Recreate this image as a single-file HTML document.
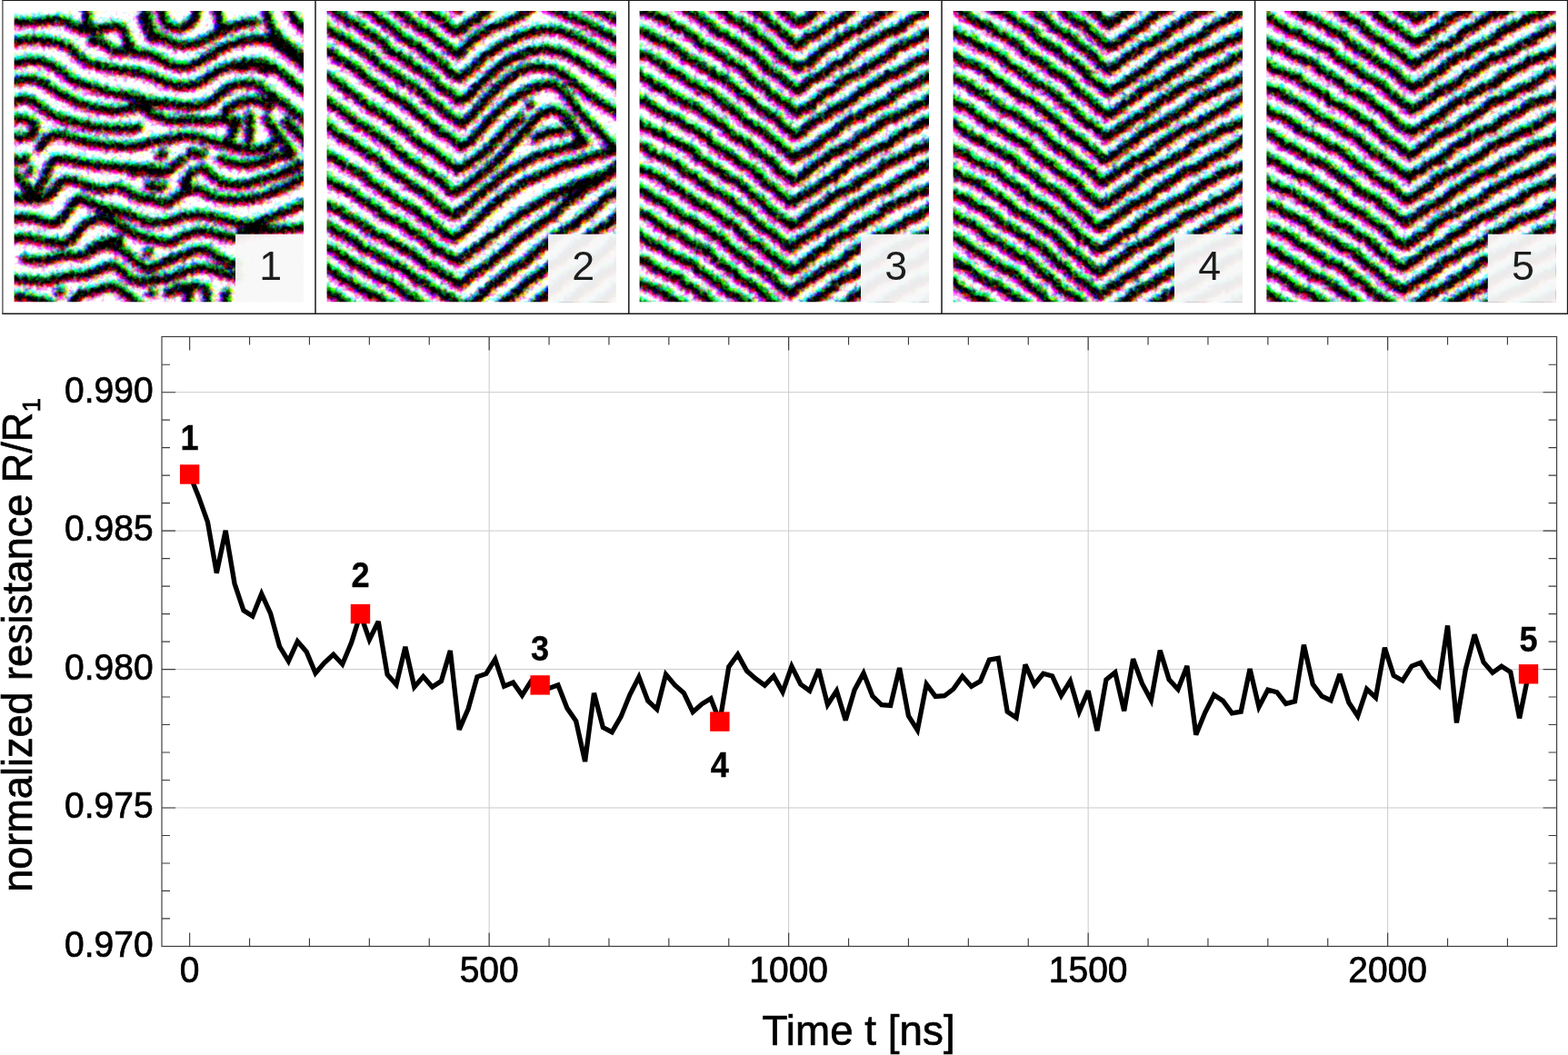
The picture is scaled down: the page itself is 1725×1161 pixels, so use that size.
<!DOCTYPE html>
<html lang="en">
<head>
<meta charset="utf-8">
<title>Normalized resistance versus time with domain pattern snapshots</title>
<style>
html,body{margin:0;padding:0;background:#fff;}
body{width:1725px;height:1161px;overflow:hidden;}
svg{display:block;}
</style>
</head>
<body>
<svg width="1725" height="1161" viewBox="0 0 1725 1161">
<rect width="1725" height="1161" fill="#fff"/>
<defs>
<clipPath id="pc"><rect x="0" y="0" width="318.4" height="320.3"/></clipPath>
<g id="ps0" fill="none" stroke-linecap="round" stroke-linejoin="round">
<path d="M78.6 -4.1C78.9 -2.1 80.2 4.4 80.6 8.3C81.1 12.2 81.2 17.5 81.3 19.3M84.8 33.8C86.7 33.9 93.1 33.5 96.5 34.7C99.8 36 102 39.6 104.7 41.3C107.5 43.1 109.8 44.6 113 45.2C116.2 45.8 121 44.9 124 44.8C127 44.7 129.8 44.8 130.9 44.8M-4.1 101.3C-1.6 100.5 6.7 96.9 11 96.7C15.4 96.6 18.4 98.6 22 100.6C25.7 102.6 29.4 106.3 33.1 108.9C36.7 111.4 40.4 113.9 44.1 115.8C47.8 117.6 51.4 118.7 55.1 119.9C58.8 121 62.5 121.7 66.1 122.7C69.8 123.6 73 124.5 77.2 125.4C81.3 126.3 86.4 127.5 91 128.2C95.5 128.9 100.1 129.2 104.7 129.5C109.3 129.9 113.9 130.2 118.5 130.2C123.1 130.2 129.1 129.8 132.3 129.5C135.5 129.2 136.9 128.6 137.8 128.4M-4.1 119.6C-2.1 119.4 4.6 118.2 8.3 118.5C11.9 118.8 15.4 119.9 17.9 121.3C20.4 122.7 23 124.5 23.4 126.8C23.9 129.1 22.7 133 20.7 135.1C18.6 137.1 15.2 138.7 11 139.2C6.9 139.6 -1.6 138 -4.1 137.8M162.1 -4.1C162.4 -1.8 162.6 6.1 164.1 9.6C165.6 13.2 168 15.6 171 17.2C174 18.8 178.6 19.5 182 19.3C185.5 19.1 188.9 17.7 191.7 15.8C194.5 14 197 11.6 198.6 8.3C200.2 4.9 200.9 -2.1 201.3 -4.1M222 -4.1C222.5 -2.3 224 3.8 224.8 6.9C225.6 10 226.5 13.2 226.8 14.5M277.1 -4.1C277.6 -1.6 278.7 6.9 279.9 11C281 15.2 282.2 17.7 284 20.7C285.9 23.7 288.2 26.2 290.9 28.9C293.7 31.7 297.1 34.5 300.6 37.2C304 40 307.5 42.3 311.6 45.5C315.7 48.7 323.1 54.7 325.4 56.5M300.6 -4.1C301.9 -1.8 304.7 4.6 308.8 9.6C313 14.7 322.6 23.4 325.4 26.2M246.1 120.6C245.6 122.1 244 126.4 242.7 129.5C241.4 132.6 239.2 137.6 238.6 139.2M259.2 114.4C259.3 116.7 259.6 123.8 259.5 128.2C259.4 132.5 258.7 138.5 258.5 140.6M297.8 121.3C299.6 123.1 304.2 127.7 308.8 132.3C313.4 136.9 322.6 146.1 325.4 148.8M-4.1 161.4C-2.5 162.1 2.5 165.5 5.5 165.5C8.5 165.5 12.4 162.1 13.8 161.4M-4.1 314.3C-1.1 314.6 8.5 315 13.8 315.7C19.1 316.4 23 317.3 27.6 318.5C32.2 319.6 39 321.9 41.3 322.6M63.4 322.6C64.8 320.8 68.4 313.7 71.7 311.6C74.9 309.5 78.6 311.1 82.7 310.2C86.8 309.3 92.3 307.2 96.5 306.1C100.6 304.9 103.8 302.9 107.5 303.3C111.2 303.8 114.8 306.5 118.5 308.8C122.2 311.1 126.3 314.8 129.5 317.1C132.8 319.4 136.4 321.7 137.8 322.6M186.2 189.6C187.2 188.4 190.4 184.3 192.4 182C194.3 179.8 197 176.9 197.9 175.8M207.5 173.1C208.8 174.1 212.5 177.1 215.1 179.3C217.8 181.5 220.2 184.3 223.4 186.2C226.6 188 230.3 189.4 234.4 190.3C238.6 191.2 243.6 191.9 248.2 191.7C252.8 191.5 257.4 190.1 262 188.9C266.6 187.8 271.2 186.2 275.8 184.8C280.4 183.4 284.9 182.3 289.5 180.7C294.1 179.1 297.4 177.7 303.3 175.2C309.3 172.6 321.7 167.1 325.4 165.5M168.3 311.6C170.3 310.7 176.8 307.3 180.7 306.1C184.6 304.8 188.3 304.6 191.7 304C195.1 303.4 199.7 302.9 201.3 302.6M191.7 311.6L190.3 325.4M211 304.7L213.1 325.4M233.7 309.5L231.7 325.4M141 6C141.8 8.3 144.2 15.8 146 20C147.8 24.2 151 29.2 152 31M232 110C235 108.3 244 101.8 250 100C256 98.2 262.8 98 268 99C273.2 100 278.8 104.8 281 106M130 179C132.7 178 140.7 173.5 146 173C151.3 172.5 159.3 175.5 162 176M84 262C86.7 260.7 94.7 255.7 100 254C105.3 252.3 113.3 252.3 116 252M250 63C252.3 62.5 259.3 59.5 264 60C268.7 60.5 275.7 65 278 66M277.1 118.5C278.7 120.8 283.3 127.7 286.8 132.3C290.2 136.9 294.6 141.7 297.8 146.1C301 150.4 307.5 156.2 306.1 158.5C304.7 160.8 294.1 158.8 289.5 160C284.9 161.2 282.7 164.1 278.5 165.5C274.4 166.9 269.3 167.9 264.7 168.5C260.1 169.2 255.5 169.6 251 169.4C246.4 169.1 241.3 168 237.2 166.9C233 165.8 228 163.4 226.1 162.8M-4.1 205.5C-1.6 205.7 6.7 206.4 11 206.9C15.4 207.3 18.4 208.2 22 208.2C25.7 208.2 29.9 208 33.1 206.9C36.3 205.7 39 203.6 41.3 201.3C43.6 199 45 195.4 46.9 193.1C48.7 190.8 50.1 188.7 52.4 187.6C54.7 186.4 57.4 186 60.6 186.2C63.9 186.4 68 187.8 71.7 188.9C75.3 190.1 78.6 191.7 82.7 193.1C86.8 194.4 92.3 196.6 96.5 196.9C100.6 197.3 104.3 195.6 107.5 195.1C110.7 194.7 113 193.9 115.8 194.5C118.5 195 120.4 196.6 124 198.6C127.7 200.5 133.2 204.6 137.8 206.2C142.4 207.8 146.5 207.2 151.6 208.2C156.7 209.3 163.9 212.8 168.3 212.4C172.7 211.9 174.7 207.5 177.9 205.5C181.1 203.4 184.6 201.5 187.6 200C190.5 198.4 193.1 196.6 195.8 196.1C198.6 195.6 200.9 196.1 204.1 197.2C207.3 198.3 211.4 201.1 215.1 202.7C218.8 204.3 222 205.9 226.1 206.9C230.3 207.8 235.3 208 239.9 208.2C244.5 208.5 249.1 208.7 253.7 208.2C258.3 207.8 262.9 206.6 267.5 205.5C272.1 204.3 276.7 203 281.3 201.3C285.9 199.7 290.5 197.9 295.1 195.8C299.6 193.8 303.8 191.5 308.8 188.9C313.9 186.4 322.6 182 325.4 180.7M-4.1 176.5C-2.5 177.9 2.3 181.6 5.5 184.8C8.7 188 12.2 193.8 15.2 195.8C18.1 197.9 20.9 198.1 23.4 197.2C26 196.3 28.4 193.1 30.3 190.3C32.3 187.6 33.8 183.9 35.1 180.7C36.5 177.5 37.1 173.8 38.6 171C40.1 168.3 41.3 165.4 44.1 164.1C46.9 162.9 51 163.1 55.1 163.4C59.3 163.8 63.9 165.3 68.9 166.2C74 167.1 79.9 168.2 85.4 169C91 169.8 96.5 170.5 102 171C107.5 171.6 113 171.7 118.5 172.1C124 172.5 130.2 172.7 135.1 173.5C139.9 174.4 142.2 176.5 147.5 177.2C152.8 178 162 179.2 166.9 177.9C171.7 176.7 173.3 172.1 176.5 169.6C179.8 167.2 184.6 164.5 186.2 163.4M-4.1 228.9C-1.1 228.7 8.5 227.3 13.8 227.5C19.1 227.8 23 229.1 27.6 230.3C32.2 231.4 37.7 234.2 41.3 234.4C45 234.6 46.9 233.7 49.6 231.7C52.4 229.6 55.4 225.2 57.9 222C60.4 218.8 62.7 214.9 64.8 212.4C66.8 209.8 68.2 207.5 70.3 206.9C72.4 206.2 74.2 207.1 77.2 208.2C80.2 209.4 84.1 212.1 88.2 213.7C92.3 215.4 97.4 216.7 102 217.9C106.6 219 111.6 219.5 115.8 220.6C119.9 221.8 123.1 223.4 126.8 224.8C130.5 226.1 134.1 227.5 137.8 228.9C141.5 230.3 143.3 232.6 148.8 233C154.4 233.5 165.5 232.6 171 231.7C176.6 230.7 178.4 228.7 182 227.5C185.7 226.4 189.4 225.2 193.1 224.8C196.7 224.3 200.4 224.5 204.1 224.8C207.8 225 211.4 225.5 215.1 226.1C218.8 226.8 222.5 228 226.1 228.9C229.8 229.8 233.5 230.7 237.2 231.7C240.8 232.6 245 233.8 248.2 234.4C251.4 235.1 253.3 235.8 256.5 235.5C259.7 235.3 263.8 234.1 267.5 233C271.2 231.9 274.4 230.5 278.5 228.9C282.7 227.3 287.7 225.2 292.3 223.4C296.9 221.6 300.6 220.1 306.1 217.9C311.6 215.7 322.2 211.6 325.4 210.3M-4.1 79.2C-1.1 78.6 8.5 75.5 13.8 75.1C19.1 74.8 23.4 75.7 27.6 77.2C31.7 78.7 34.9 81.8 38.6 84.1C42.3 86.4 45.9 88.9 49.6 91C53.3 93 57 94.6 60.6 96.5C64.3 98.3 67.5 100.4 71.7 102C75.8 103.6 80.8 105 85.4 106.1C90 107.3 94.6 108.2 99.2 108.9C103.8 109.6 108.9 110.2 113 110.2C117.1 110.2 120.4 109.5 124 108.9C127.7 108.2 131.8 106.6 135.1 106.4C138.3 106.2 140.6 106.4 143.3 107.8C146.1 109.1 146.5 112.1 151.6 114.4C156.7 116.6 167.8 120.4 173.8 121.3C179.8 122.2 183 119.9 187.6 119.9C192.2 119.9 196.7 120.8 201.3 121C205.9 121.2 210.5 121.4 215.1 121.3C219.7 121.1 225.2 120.2 228.9 120.2C232.6 120.2 235.8 121.1 237.2 121.3M10.3 272.3C12.1 272.7 16.7 274 20.7 274.4C24.7 274.7 30.1 274.8 34.5 274.4C38.8 273.9 43 272.5 46.9 271.6C50.8 270.7 54.2 269.1 57.9 268.9C61.6 268.6 65.7 270.2 68.9 270.2C72.1 270.2 74.4 270 77.2 268.9C79.9 267.7 82.2 265 85.4 263.4C88.7 261.8 92.8 259.9 96.5 259.2C100.1 258.5 103.8 258.5 107.5 259.2C111.2 259.9 115.1 261.3 118.5 263.4C122 265.4 124.9 269 128.2 271.6C131.4 274.3 134.4 277.3 137.8 279.2C141.3 281.2 143.3 284.1 148.8 283.3C154.4 282.5 165.5 276.6 171 274.4C176.6 272.2 178.4 271.6 182 270.2C185.7 268.9 189.9 267.3 193.1 266.1C196.3 265 198.1 263.8 201.3 263.4C204.6 262.9 209.2 262.4 212.4 263.4C215.6 264.3 217.9 267 220.6 268.9C223.4 270.7 226.1 273 228.9 274.4C231.7 275.8 234 276.4 237.2 277.1C240.4 277.9 246.4 278.5 248.2 278.8M-4.1 295.1C-1.1 295.3 8.5 296 13.8 296.4C19.1 296.9 23 297.8 27.6 297.8C32.2 297.8 36.7 297.4 41.3 296.4C45.9 295.5 50.5 293.2 55.1 292.3C59.7 291.4 64.3 291.4 68.9 290.9C73.5 290.5 78.1 290.7 82.7 289.5C87.3 288.4 92.3 285.6 96.5 284C100.6 282.4 104.3 279.9 107.5 279.9C110.7 279.9 113 282 115.8 284C118.5 286.1 120.8 290 124 292.3C127.2 294.6 131.4 296.9 135.1 297.8C138.7 298.7 140.1 298.5 146.1 297.8C152.1 297.1 165 295.1 171 293.7C177 292.3 178.4 290.9 182 289.5C185.7 288.2 189.4 286.6 193.1 285.4C196.7 284.3 200.4 282.9 204.1 282.7C207.8 282.4 211.4 283.1 215.1 284C218.8 284.9 222.5 287 226.1 288.2C229.8 289.3 233.5 290.2 237.2 290.9C240.8 291.7 246.4 292.3 248.2 292.6M27.6 151.6C28.7 150 31.7 144.5 34.5 141.9C37.2 139.4 40.7 137.1 44.1 136.4C47.5 135.7 51 136.9 55.1 137.8C59.3 138.7 64.3 140.8 68.9 141.9C73.5 143.1 78.1 143.8 82.7 144.7C87.3 145.6 91.9 146.8 96.5 147.5C101.1 148.1 105.7 148.5 110.2 148.8C114.8 149.2 119.4 149.5 124 149.5C128.6 149.5 133.7 149.6 137.8 148.8C141.9 148 142.8 146.1 148.8 144.7C154.8 143.3 167.3 141.7 173.8 140.6C180.2 139.4 183 138 187.6 137.8C192.2 137.6 196.7 138.3 201.3 139.2C205.9 140.1 210.5 142.2 215.1 143.3C219.7 144.5 225 145 228.9 146.1C232.8 147.1 235.1 148.6 238.6 149.5C242 150.4 245.4 151 249.6 151.6C253.7 152.2 258.8 153 263.4 153C268 153 273.7 152.7 277.1 151.6C280.6 150.4 282.9 147 284 146.1M144.7 -4.1C145.2 -1.6 146.3 6.4 147.5 11C148.6 15.6 147.2 19.3 151.6 23.4C156 27.6 167.8 33.4 173.8 35.8C179.8 38.2 183 37.9 187.6 37.9C192.2 37.9 196.7 37.2 201.3 35.8C205.9 34.5 210.5 31.9 215.1 29.6C219.7 27.3 224.3 24.1 228.9 22C233.5 20 238.1 18.7 242.7 17.2C247.3 15.7 252.6 13.8 256.5 13.1C260.4 12.4 264.5 13.1 266.1 13.1M-4.1 34.7C-1.1 34.3 8.5 32.8 13.8 32.4C19.1 31.9 23 31.7 27.6 32C32.2 32.3 37.2 33.4 41.3 34.2C45.5 35 48.9 35.7 52.4 36.9C55.8 38.1 59.3 39.5 62 41.3C64.8 43.2 66.4 45.9 68.9 48.2C71.4 50.5 74 53.3 77.2 55.1C80.4 57 84.5 58.1 88.2 59.3C91.9 60.4 95.5 61.1 99.2 62C102.9 62.9 106.1 63.8 110.2 64.5C114.4 65.2 119.4 65.6 124 66.1C128.6 66.7 133.7 66.9 137.8 67.8C141.9 68.7 142.8 69.4 148.8 71.7C154.8 73.9 167.3 79.5 173.8 81.3C180.2 83.1 183 82.8 187.6 82.7C192.2 82.6 197.2 82 201.3 80.6C205.5 79.2 208.9 76.6 212.4 74.4C215.8 72.2 218.3 69.6 222 67.5C225.7 65.5 230.1 63.5 234.4 62C238.8 60.5 243.6 59.5 248.2 58.6C252.8 57.7 257.4 56.6 262 56.5C266.6 56.4 271.6 56.7 275.8 57.9C279.9 59 283.1 61.1 286.8 63.4C290.5 65.7 294.1 68.7 297.8 71.7C301.5 74.6 304.2 77.6 308.8 81.3C313.4 85 322.6 91.6 325.4 93.7M-4.1 12.4C-1.1 12.4 8.5 12.7 13.8 12.7C19.1 12.6 23 12.4 27.6 12.1C32.2 11.8 37.2 11 41.3 10.7C45.5 10.5 49.2 9.8 52.4 10.3C55.6 10.8 57.9 12.3 60.6 13.8C63.4 15.3 66.1 18 68.9 19.3C71.7 20.6 74 21.1 77.2 21.4C80.4 21.6 84.5 21.1 88.2 20.7C91.9 20.2 95.5 19.3 99.2 18.6C102.9 17.9 107.3 16.7 110.2 16.5C113.2 16.4 115.3 16.8 117.1 17.9C119 19.1 120.1 21.1 121.3 23.4C122.4 25.7 122.9 28.9 124 31.7C125.2 34.5 126.8 37.7 128.2 40C129.5 42.3 130.7 44.3 132.3 45.5C133.9 46.6 135.1 46.4 137.8 46.9C140.6 47.3 142.8 46.1 148.8 48.2C154.8 50.4 167.3 57.7 173.8 59.9C180.2 62.2 183 62.1 187.6 61.7C192.2 61.4 196.7 59.9 201.3 57.9C205.9 55.9 210.5 52.4 215.1 49.6C219.7 46.9 224.3 43.6 228.9 41.3C233.5 39 238.1 37.3 242.7 35.8C247.3 34.3 251.9 33.2 256.5 32.4C261.1 31.6 266.1 30.9 270.2 31C274.4 31.1 277.6 31.6 281.3 33.1C284.9 34.6 288.6 37.4 292.3 40C296 42.5 297.8 43.9 303.3 48.2C308.8 52.6 321.7 63.2 325.4 66.1M-4.1 58.6C-1.1 58 8.5 55.7 13.8 55.1C19.1 54.6 23.4 54.7 27.6 55.4C31.7 56.1 34.9 57.7 38.6 59.3C42.3 60.8 46.4 62.7 49.6 64.8C52.8 66.8 55.1 69.6 57.9 71.7C60.6 73.7 62.9 75.6 66.1 77.2C69.4 78.8 73 79.9 77.2 81.3C81.3 82.7 86.4 84.1 91 85.4C95.5 86.8 100.1 88.4 104.7 89.6C109.3 90.7 113.9 91.6 118.5 92.3C123.1 93.1 127.7 92.8 132.3 94C136.9 95.1 139.2 97.8 146.1 99.2C153 100.7 166.9 101.8 173.8 102.7C180.7 103.6 183 104.4 187.6 104.7C192.2 105.1 196.7 105.4 201.3 104.7C205.9 104 211.2 102.4 215.1 100.6C219 98.8 221.6 96.2 224.8 93.7C228 91.2 231 87.5 234.4 85.4C237.9 83.4 241.8 82.2 245.4 81.3C249.1 80.4 252.8 79.9 256.5 79.9C260.1 79.9 264 79.9 267.5 81.3C270.9 82.7 273.7 85.7 277.1 88.2C280.6 90.7 284.5 93.7 288.2 96.5C291.8 99.2 295.5 102 299.2 104.7C302.9 107.5 305.9 109.8 310.2 113C314.6 116.2 322.8 122.2 325.4 124M-4.1 251C-1.1 250.7 8.5 249.3 13.8 249.6C19.1 249.8 23 251.4 27.6 252.3C32.2 253.3 36.7 254.6 41.3 255.1C45.9 255.5 51.2 255.8 55.1 255.1C59 254.4 62.2 253 64.8 251C67.3 248.9 68.2 245.2 70.3 242.7C72.4 240.2 74.2 237.9 77.2 235.8C80.2 233.7 84.5 231.4 88.2 230.3C91.9 229.1 95.5 228.4 99.2 228.9C102.9 229.4 106.6 231.2 110.2 233C113.9 234.9 117.6 237.9 121.3 239.9C124.9 242 128.6 243.8 132.3 245.4C136 247.1 136.9 248 143.3 249.6C149.8 251.2 164.6 255.1 171 255.1C177.5 255.1 178.4 251.2 182 249.6C185.7 248 189.4 246.6 193.1 245.4C196.7 244.3 200.4 242.9 204.1 242.7C207.8 242.5 211.4 243.4 215.1 244.1C218.8 244.8 222.5 245.9 226.1 246.8C229.8 247.7 234 249.1 237.2 249.6C240.4 250 242.2 250.4 245.4 249.6C248.7 248.8 252.3 245.9 256.5 244.8C260.6 243.6 264.5 243.3 270.2 242.7C276 242.1 281.7 242.2 290.9 241.3C300.1 240.4 319.6 238.1 325.4 237.5" stroke-width="10.6"/>
<path d="M194.2 154.9C195.1 155.3 197.5 157 199.9 157.5C202.3 158 207.2 157.7 208.7 157.7" stroke-width="10.6"/>
<path d="M165.2 157.4L159.1 158.9" stroke-width="10.6"/>
<path d="M18.7 174.8L17.1 177.4" stroke-width="10.4"/>
<path d="M146.8 192.4C148.7 192.7 155.2 193.9 158.2 194.1C161.2 194.2 163.8 193.4 164.9 193.3" stroke-width="10.6"/>
<path d="M145.9 265.9L148.7 266.8" stroke-width="10.4"/>
<path d="M52.2 309L49.3 309.7" stroke-width="10.6"/>
<path d="M149.6 311L152.6 311" stroke-width="10.0"/>
</g>
<g id="ps1" fill="none" stroke-linecap="round" stroke-linejoin="round">
<path d="M-9.3 -108L-5.7 -106.4L-2.3 -104.5L1.5 -103.3L4.8 -101.2L7.7 -98.5L11.9 -97.8L15.6 -96.3L17.6 -92.2L20.4 -89.4L24.2 -88L27.5 -85.9L31 -84.1L34.1 -81.8L36.5 -78.3L40.2 -76.7L43.8 -74.9L45.5 -70.6L48.3 -67.7L52.5 -66.7L56 -64.9L59.7 -63.2L63 -61L65.6 -57.9L69.5 -56.5L73.2 -54.9L75.2 -50.8L78.5 -48.5L82.8 -47.8L86.2 -45.6L89.4 -43.2L92.1 -40.1L94.4 -36.6L98.3 -35L101.2 -32.3L103.1 -28.1L107.1 -26.7L111.3 -25.6L114.4 -23L117.6 -20.5L120.1 -17.2L123.4 -14.8L127.7 -13.9L130.3 -10.6L133.4 -7.9L137.4 -6.5L140.4 -3.7L143.3 -0.8L146.5 -3.4L149.5 -6L153.2 -7.9L156.3 -10.5L159.3 -13.2L161.6 -16.8L164 -20.3L168.5 -21L172.1 -23L174.5 -26.4L178.7 -27.7L182.4 -29.4L185.3 -32.3L188.3 -34.9L190.7 -38.5L194.3 -40.4L198.8 -41.1L201.2 -44.6L203.8 -47.7L207.7 -49.3L210.4 -52.3L213 -55.6L215.7 -58.6L218.4 -61.7L222.9 -62.5L226.8 -64L228.9 -67.8L232.4 -69.8L236.3 -71.3L238.9 -74.4L242.1 -76.9L245.1 -79.5L248.6 -81.5L253.3 -82L256.1 -84.9L258 -89L261.6 -90.8L264.7 -93.3L267.1 -96.8L270.3 -99.2L273.2 -101.9L277 -103.5L281.2 -104.6L283.3 -108.4L285.7 -111.8L289.8 -112.9L293 -115.3L296 -118L299.7 -119.7L303 -121.8L307.1 -123L310.7 -124.8L312.3 -129.3L315.1 -132.2L319.2 -133.4L321.9 -136.3L324.8 -139.1L328.2 -141.1M-8.4 -84.2L-5.1 -82L-0.8 -81.5L2.1 -78.9L4.1 -74.9L7.6 -73.2L11.6 -72.1L14.9 -70L18.3 -68.1L21.2 -65.4L23.8 -62.2L27.6 -60.8L30.6 -58.3L32.3 -53.9L35.7 -51.9L39.9 -51.1L43.3 -49L46.7 -47L49.7 -44.5L52.5 -41.5L56.5 -40.4L59.9 -38.3L62 -34.4L65.8 -33L70.3 -32.4L73.4 -29.9L76.4 -27.3L79.1 -24.2L81.7 -21L85.5 -19.5L88.4 -16.6L90.4 -12.7L94.6 -11.5L98.6 -10.3L101.3 -7.2L104.3 -4.4L107 -1.3L110.3 0.9L114.6 1.9L117.3 5L120.4 7.6L125.2 8L128.5 10.4L130.9 13.9L133.7 16.8L136.7 19.7L140.2 21.8L143.3 24.4L146.5 21.9L149.9 19.6L152.6 16.5L155.7 13.9L158.9 11.6L162.9 10.1L167.3 9.1L169.4 5.3L172.1 2.1L176.1 0.8L178.5 -2.7L181 -6.1L184.3 -8.4L187.5 -10.8L191.6 -12L194.7 -14.7L196.4 -19.1L200 -20.9L203.9 -22.5L206.3 -25.9L209.8 -28L213.6 -29.6L217.3 -31.3L221.3 -32.7L223.5 -36.4L225.8 -40.1L230 -41.1L233.1 -43.7L235.5 -47.1L239.1 -49L242.4 -51.3L245.8 -53.4L248.8 -56L250.4 -60.5L253.6 -63L258 -63.7L260.9 -66.6L263.9 -69.1L267.9 -70.4L271.3 -72.6L274.9 -74.5L277.7 -77.4L279.7 -81.4L283.7 -82.6L288 -83.6L290.3 -87L293.5 -89.5L297 -91.4L299.8 -94.3L302.8 -96.9L305.1 -100.4L307.5 -103.9L312 -104.5L315.9 -106L318.2 -109.5L321.7 -111.4L325.3 -113.2L328.2 -115.9M-9 -58.8L-5.4 -57.3L-1.2 -56.8L2.1 -54.7L5.3 -52.7L8.3 -50.3L10.8 -47.1L14.3 -45.4L17.6 -43.4L19.4 -39.2L22.3 -36.6L26.7 -36.1L30.1 -34.3L33 -31.7L36.2 -29.5L38.8 -26.5L42.2 -24.6L46.2 -23.4L48.6 -20.1L51.5 -17.5L56.2 -17.4L59.9 -15.8L62.6 -12.8L65.6 -10.3L68.1 -7.1L71.3 -4.8L75 -3.3L77.3 0.3L80 3.2L84.5 3.7L87.7 6L90 9.5L92.9 12.2L95.7 15.1L99.4 16.8L103.4 18L105.9 21.3L109.4 23.3L114.1 23.7L116.9 26.5L119.2 30.1L122.3 32.6L125.3 35.3L129.2 36.8L132.5 39L134.8 42.6L138.3 44.6L141.6 46.9L144.6 49.6L147.2 46.5L150 43.5L152.5 40.4L155 37.5L157.9 35L160.5 32.1L163.2 29.4L166.4 27.6L169.7 26L173 24.3L176.2 22.3L179.2 20.2L182.7 18.4L186.4 17.2L190 15.9L193.5 14.2L197.1 12.9L200.5 11.6L203.7 10.1L206.8 8.4L210.1 7.1L213.3 5.6L216.5 3.1L219.6 0.6L222.9 -1.7L226.3 -3.7M-7.5 -36.8L-4.4 -34.6L-1.7 -31.5L1.7 -29.7L5.1 -27.8L7.1 -23.8L10 -21.3L14.5 -20.9L17.8 -19L20.5 -15.9L23.5 -13.5L26.3 -10.6L29.6 -8.6L33.6 -7.4L36.2 -4.3L39.2 -1.8L44 -1.8L47.7 -0.3L50.2 3L53.2 5.5L56 8.4L59.2 10.6L63.1 12L65.6 15.3L68.3 18.3L72.8 18.9L75.9 21.3L77.9 25.3L80.9 28L83.9 30.6L87.5 32.4L91.5 33.6L94.1 36.8L97.5 38.9L102.2 39.3L104.9 42.3L107.2 46L110.6 48.1L113.9 50.4L117.8 51.9L121.3 54L123.4 57.8L127.1 59.7L130.8 61.4L132.5 65.8L135.5 68.6L139.2 70.4L142.7 72.5L146 74.8L149.1 72.2L152.3 69.7L155.2 66.9L158.4 64.3L161.5 61.6L164.8 59L167.9 56.2L170.6 52.9L173.6 50L176.6 47.8L180 46L183 43.7L186 41.4L189.4 39.7L192.5 37.6L195.6 35.9L198.8 34.3L202.1 33.1L205.2 31.3L208.3 29.6L211.4 27.9L215.1 26.6L219 25.8L222.8 24.9L226.3 23.1L230 21.9L233.7 21.8L237.5 21.5L241.1 20.8L244.9 21L248.6 20.8L252.3 21.7L256.1 22.6L259.7 23.8L263.4 25L267.1 26L270.8 27.9L274.8 29.1L278.3 31.4L282 33.4L285.7 35.2L289.5 37.2L292.9 39.6L296.8 41.4L300.6 43.3L304.2 45.4L307.3 47.6L310.5 49.6L313.7 51.6L317.2 53L320.5 54.7L323.4 57.3L326.5 59.4M-7.7 -12.2L-5.4 -8.6L-2.5 -6L2 -5.7L5.4 -3.7L7.7 -0.2L10.7 2.3L13.6 5L16.9 7.2L20.8 8.4L23.6 11.3L26.6 13.9L31.3 13.9L35.1 15.4L37.4 19L40.5 21.5L43.7 23.8L47 26L50.9 27.3L53.6 30.3L56.4 33.4L60.7 34.1L63.9 36.5L65.7 40.8L68.7 43.5L71.9 45.8L75.4 47.8L79.4 49.1L82.1 52.2L85.3 54.6L89.9 55.1L92.7 58L94.9 61.9L98.6 63.6L102.2 65.5L106.1 67.1L109.7 69.1L111.9 72.8L115.4 74.9L119.2 76.6L120.9 81.1L123.6 84.3L127.5 85.9L130.9 88.1L134.7 89.8L137.6 92.8L140.6 95.6L144.3 97.5L147.5 100.1L150.3 97.9L153.3 95.9L156.1 93.6L158.8 91.3L161.1 88.5L163.3 85.6L166 83.3L168.9 81L171.2 78.2L173.8 75.7L177 73.2L179.9 70.3L182.8 67.5L186 64.9L188.9 62.1L191.8 60.1L194.7 57.9L197.6 55.7L200.8 54L203.9 52.3L207.8 50.9L211.3 49L215.2 47.9L218.9 46.2L222.6 44.5L226.3 43.8L230 43.5L233.7 42.8L237.4 42.1L241.2 41.7L244.8 42.6L248.5 43.8L252.2 44.7L256 44.7L259.7 45.4L263.4 47.6L267.2 49.6L271 51.5L274.6 53.8L277.4 55.8L280.4 57.6L283.5 59.2L286.4 61.3L289.4 63.1L292.4 64.9L295.4 66.6L298.6 68.1L301.4 70.2L304.2 72.3L307.3 74.6L310.7 76.5L313.5 79.1L316.6 81.3L320.2 82.8L323.3 85L326.5 87.2M-7.3 11.5L-5.3 15.3L-2.4 18L0.6 20.4L3.7 22.8L7.4 24.1L10.5 26.4L13.3 29.3L17.6 29.8L21.7 30.7L24 34.2L26.7 37.1L30.2 38.9L33.4 41L37.2 42.4L40.6 44.4L43 47.7L46.8 49.2L50.7 50.4L52.6 54.5L54.9 58.1L58.3 60L61.6 62.2L65.3 63.8L68.7 65.8L71.2 69.1L74.9 70.6L79 71.7L81.1 75.6L83.8 78.6L87.9 79.6L91.6 81.4L95.3 83L98.5 85.4L100.8 88.9L104.6 90.5L108 92.7L109.6 97.2L112.7 99.7L116.7 101L120 103.3L123.4 105.4L126 108.7L128.6 111.9L132.8 113L135.7 115.8L138.4 119L142.4 120.4L145.8 122.6L148.8 125.3L151.5 122.8L153.7 120L156.6 117.8L159.4 115.5L162.2 112.4L164.7 109.2L167.9 106.5L170.3 103.2L173 100L175.7 97.3L178.6 94.8L181.2 91.9L183.8 89.1L186.5 86.4L189.1 83.9L192 81.8L195 79.8L197.3 77.1L200 74.7L203.1 72.8L206.1 70.8L208.9 68.5L212.1 66.8L215.2 64.9L219.3 63.8L223.5 62.8L227.7 62.1L231.9 61.2L235.6 61.9L239.3 62.4L243 62.4L246.7 63.1L249.9 64.8L253.3 66.2L256.5 67.8L259.7 69.6L262.9 72.2L266.3 74.5L269.4 77.3L272.7 79.8L275.9 82.6L279.3 85.2L282.7 87.8L285.7 90.9L288.6 93L291.3 95.4L294.6 97.1L297.6 99L300.5 101.1L303.8 103.1L307.2 104.8L310.2 107.1L313.4 109.2L316.8 110.9L320.1 112.8L323.4 114.6L326.5 116.9M-8.8 39.2L-5.3 40.8L-2.6 43.6L0.7 45.6L5.2 45.9L8.2 48.2L10.3 52.1L13.7 54L17.3 55.5L20.8 57.3L24.6 58.6L27.5 61.1L30.3 64L34.4 64.9L37.5 67.2L39.2 71.7L42.1 74.3L45.8 75.8L49 78L52.6 79.7L55.6 82.3L58.1 85.4L62.1 86.6L65.6 88.5L67.5 92.6L70.8 94.7L75.1 95.4L78.7 97.2L82.3 99L85.3 101.6L87.8 104.9L91.7 106.3L94.8 108.7L96.5 113L100.1 115L104.2 116.1L107.2 118.7L110.3 121.2L112.8 124.6L115.4 127.6L119.6 128.8L122.4 131.7L124.8 135.2L129.3 135.8L133.4 137.1L136.3 139.9L139.3 142.6L142 145.7L145.3 148L148.5 150.5L151.6 148.2L154.4 145.5L157.6 143.3L160.6 140.9L163.1 138.2L165.4 135.4L168.1 132.9L170.5 130.2L172.9 127.4L175.5 124.2L178.1 120.9L181.4 118.2L184.5 115.4L187.1 112.1L189.9 109.5L192.9 107.2L195.8 104.8L198.4 102L201.3 99.6L204.5 97.5L207.6 95.3L210.6 93L213.8 91L217 89L220.9 87.7L224.7 86.3L228.1 84.1L231.9 82.6L235.6 82.1L239.3 81.7L243 81L246.7 80.7L249.7 82.5L252.7 84L255.8 85.5L258.8 87.2L261.2 90.5L263.8 93.7L266.6 96.8L269 100.2L271.3 102.9L273.1 106L275.4 108.7L277.9 111.3L280.1 114.1L282.6 116.8L285.4 119.1L288 121.8L290.4 124.5L293.1 127.1L296.2 129.9L299.3 132.8L302.1 135.9L304.7 139.2L307.9 141.9L310.8 144.5L313.8 146.9L316.2 149.9L319.1 152.5M-9.3 68.4L-5.8 70.2L-1.8 71.2L1.6 73L5.4 74.4L8.5 76.7L11.3 79.6L15.3 80.7L18.6 82.8L20.3 87.2L23.3 89.8L27.3 90.9L30.5 93.1L33.9 95.2L36.9 97.7L39.4 101L43.2 102.5L46.6 104.4L48.6 108.5L52 110.5L56.5 110.9L60.1 112.8L63.5 114.8L66.6 117.3L69.2 120.5L73.1 121.9L76.4 124.1L78.3 128.3L81.9 130L86.2 130.9L89.1 133.8L92 136.6L94.5 139.9L97.2 143.1L101.2 144.4L104.2 147.1L106.6 150.6L111.2 151.2L115.2 152.6L117.9 155.6L121 158.2L123.8 161.4L127.4 163.3L131.4 164.6L133.8 168.2L137.1 170.7L140.5 172.8L143.5 175.7L147 173.8L150.2 171.5L153.7 169.5L157.1 167.3L160.4 164.9L163.7 162.4L167 159.9L170.6 157.9L173.6 155.3L176.7 152.8L179 149.6L181.8 146.9L184.7 144.2L187.4 141.3L189.9 138.3L192.7 135.7L195.5 133L198 130L200.7 127.3L204 124.6L207.4 122L210.5 119.1L213.3 115.9M-7.9 93.7L-4.7 96L-0.7 97L1.9 100L3.9 104L7.6 105.4L11.7 106.5L14.7 109L17.9 111.3L20.6 114.2L23.3 117.2L27.1 118.6L30.1 121.1L32.2 125L36.1 126.2L40.6 126.7L43.8 129L47.1 131.3L50.1 133.9L52.9 136.7L56.9 137.9L60.1 140.3L62.3 144.1L66.3 145.2L70.5 146.2L73 149.5L75.8 152.6L78.4 155.7L81.2 158.6L85.2 160L88 162.9L90.6 166.2L95.2 166.7L99 168.3L101.4 171.8L104.5 174.4L107.5 177.1L111.2 178.9L115.4 180L117.9 183.4L121.1 185.8L125.6 186.6L128 190.1L130.4 193.8L133.5 196.3L136.8 198.7L140.3 200.9L143.5 199L146.6 196.7L149.6 194.5L152.8 192.4L156.2 190.7L159.6 188.5L162.7 185.9L165.6 183.1L169 180.8L172 178.1L175 175.4L178.2 172.7L181.6 170.4L184.6 167.6L187.8 165L190.3 162.3L193 159.6L195.8 157.1L198.3 154.2L200.5 151.2L202.9 148.2L205.6 145.6L208.2 142.8L210.6 139.9L213.3 137.3L216.1 134.4L218.5 131.3L221.1 128.3L223.8 125.5L226.3 122.4L229.1 119.8L231.7 117.1L234.4 114.5L237.4 112.2L240.9 111.2L244.3 109.9L247.7 108.5L251.3 110.1L255 111.5L258.8 112.8L261.2 115.6L263.3 118.6L265.8 121.4L268.1 124.3L270.5 127.4L272.7 130.6L274.8 133.9L277.3 136.9L279.9 139.6L282.4 142.2L284.8 145.1M-8.5 121.7L-4.2 122.2L-1.2 124.6L1.7 127.3L4.6 129.8L7.2 133L10.6 134.8L14 136.6L16.1 140.4L19.4 142.5L24 142.5L27.5 144.4L30.2 147.2L33.4 149.4L36.3 152.2L39.8 153.9L43.7 155.1L46.2 158.4L49.3 160.8L53.9 161.1L57.1 163.4L59.3 167L62.1 169.8L64.8 172.8L68.1 174.9L71.9 176.4L74.3 179.9L77.4 182.3L82 182.7L85 185.3L87.2 188.9L90.5 191.2L93.7 193.5L97.7 194.8L101.6 196.2L104 199.6L107.6 201.4L111.9 202.4L114.1 206.1L116.3 209.8L119.6 212.1L122.8 214.5L126.7 216.1L129.7 218.7L132.4 221.8L136 223.7L139.2 226.1L142.1 223.8L145.3 221.9L148.5 220L151.1 217.3L154.1 215L156.9 212.7L159.6 210.2L161.9 207.3L165 205.3L167.9 203L170.6 200.5L173.2 198.1L176.1 196L179 193.9L181.9 191.9L184.5 189.4L187.1 186.9L190.4 184.3L193.9 182L197 179L200.6 176.8L204.1 174.4L207.8 172.4L211.4 170.2L215.3 168.5L219 166.4L222.6 164.2L226.3 162.6L229.8 160.6L233.5 159.1L237.5 158.3L241.2 156.8L244.9 155.6L248.6 154.6L252.4 153.9L256 152.3L259.7 151.2L263.4 150.4L267.1 149.6L270.8 148.6L274.6 147.8L277.9 146.9L281.4 146.1L284.8 145.1M-8.7 152.5L-5.4 154.3L-1.9 156L0.4 159.4L3.5 161.6L8 161.6L11.5 163.2L14 166.4L17.1 168.6L20.2 170.8L23.6 172.7L27.5 173.6L30.6 176L33.3 178.8L37.7 179.2L41.5 180.4L43.6 184.1L46.3 187.1L49.4 189.4L52.4 191.9L56.2 193.2L59.2 195.6L61.6 198.9L65.6 199.9L69.5 201.1L71.6 204.9L74.3 207.8L77.9 209.5L81.3 211.3L85.4 212.3L88.8 214.2L91.4 217.4L95.5 218.3L99.2 219.9L101.1 224L103.9 226.8L107.5 228.5L110.9 230.6L114.6 232.1L117.4 235L119.7 238.6L123.7 239.8L126.8 242.2L129.1 245.8L132.7 247.4L136.4 249.1L139.7 251.4L142.8 248.7L146.3 246.5L149.5 244L152.5 241.2L155.8 238.8L158.8 236.2L161.6 233.4L164.3 230.4L167.5 227.9L170.6 225.3L173.6 222.8L176.8 220.2L179.4 217.1L182.1 214.2L185.6 212.1L188.4 209.3L191.5 206.7L194.5 204.5L197.8 202.7L200.6 200.3L203.5 198L206.6 196L209.6 193.9L213.3 191.8L216.8 189.5L220.3 187.2L224.4 185.9L228.2 184L231.9 182.5L235.5 180.6L239.5 179.5L243.1 177.6L246.7 175.9L250.4 174.3L254.2 173.1L257.8 171.3L261.5 169.8L265.3 168.4L269 167.4L272.9 166.8L276.6 165.8L280.1 164L283.8 162.9L287.5 161.9L291.2 160.7L294.8 159.3L298.7 158.7L302.4 157.7L305.7 156.6L309 155.5L312.4 154.7L315.8 153.7L319.1 152.5M-9.1 181.7L-4.7 181.6L-1.4 183.3L0.9 186.8L4 189L7.3 190.8L10.6 192.6L14.5 193.4L17.8 195.2L20.6 197.9L24.7 198.5L28.7 199.1L31 202.6L33.5 205.8L36.9 207.6L40 209.7L43.5 211.2L47 212.9L49.4 216.1L52.7 218L56.8 218.6L59.4 221.8L61.5 225.5L65.1 227.1L68.7 228.5L72.3 229.9L76.2 230.9L79 233.7L82.2 235.9L86.4 236.4L89.2 239.1L91.3 242.9L94.9 244.5L98.7 245.8L102 247.7L105.5 249.4L107.9 252.8L110.7 255.7L114.6 256.7L117.3 259.8L119.4 263.6L123.3 264.7L127.3 265.8L130.7 267.6L134.1 269.6L136.9 272.4L140.2 274.5L143.5 276.6L146.5 274L149.8 271.8L153 269.5L155.9 266.9L159.1 264.6L162.4 262.3L165.5 260.2L168.8 258.3L171.7 255.9L174.1 252.8L177.3 250.9L180.5 248.8L183.4 246.5L186.4 244.1L189.6 242.2L192.6 239.9L195.3 237.2L198.4 235.1L201.5 232.9L204.5 230.6L207.7 228.2L210.8 225.5L213.9 223L217.9 221.7L221.1 219.3L224.5 217L227.5 215.2L230.9 213.7L233.8 211.6L236.7 209.4L239.9 207.8L243 205.9L246.6 203.9L250.3 201.8L254 200L257.9 198.6L261.6 196.6L265.3 195.2L268.8 193.1L272.7 192L276.4 190.4L280.1 188.8L283.8 187.4L287.6 186.4L291.2 184.8L294.9 183.4L298.7 182.2L302.7 181.3L306.7 180.4L310.7 179.1L314.3 176.8L318.4 176.2L322.5 175.5L326.5 174.4M-9.1 210.6L-5.6 212L-2.3 213.6L1.5 214.4L4.8 216.1L7.7 218.5L11.7 219L15.7 219.5L18 222.9L20.5 226L24.1 227.3L27.5 228.9L30.9 230.4L34.4 231.8L37 234.8L40 237.1L43.9 237.7L46.7 240.3L48.7 244.3L52.1 246L56 246.8L59.4 248.3L63.1 249.4L66.3 251.5L69.1 254.2L73 254.9L76.6 256.3L78.7 260L81.9 262.2L86 262.6L89.5 264.2L92.8 266.1L95.8 268.4L98.2 271.8L101.5 273.6L105.2 274.9L107.3 278.7L110.1 281.4L114.4 281.7L118 283.2L121.2 285.3L124.3 287.4L126.9 290.5L130.5 292L134.5 292.8L137.1 295.8L140.3 297.9L143.9 299.4L147 301.8L150.3 299.4L153.4 296.7L156.3 293.7L158.9 290.5L161.8 287.5L166.6 287L170.2 285L172.6 281.3L176.8 280L180.3 278L182.8 274.5L185.9 271.8L188.7 268.7L192.6 267.2L196.8 265.9L198.8 261.7L201.6 258.7L205.5 257.1L207.9 253.5L210.7 250.5L213.9 248L217.4 245.8L222.1 245.3L225.1 242.5L227.3 238.6L231.4 237.3L234.9 235.2L237.5 231.9L241 229.8L244.3 227.5L248.3 226L252.1 224.2L253.7 219.7L256.4 216.5L260.4 215.1L262.9 211.7L265.9 208.9L269.5 206.9L272.9 204.7L277 203.5L279.8 200.5L281.7 196.3L285.8 195L289.8 193.7L292.6 190.6L296.3 188.7L299.9 186.8L303.3 184.7L306.9 182.7L308.8 178.5L311.1 174.9L315.5 174.1L318.7 171.6L321.3 168.3L324.9 166.5L328.1 164M-8.1 232.5L-5.2 234.8L-1.9 236.5L2.3 236.6L5.5 238.5L7.6 242.3L10.8 244.1L14.7 244.8L18.1 246.4L21.5 247.9L24.7 249.8L27.3 252.8L30.7 254.3L34.3 255.5L36.5 259.2L39 262.4L42.9 263.1L46.6 264.1L49.9 265.8L53.4 267.3L56.3 269.9L59.4 272L63.4 272.5L66.5 274.8L68.8 278.3L72.6 279.1L76.8 279.5L80 281.5L83.2 283.5L86 286.1L88.6 289.2L92.3 290.5L95.5 292.4L97.6 296.3L101 298L105.3 298.2L108.5 300.4L111.4 302.8L114.4 305.2L117.1 308.1L121 309.1L124.8 310.2L127.3 313.4L130.9 314.9L135.4 314.9L138.5 317.2L141.1 320.3L144 322.8L147.1 325.1L150.4 327L153.6 324.4L156.8 321.9L160.4 319.8L164.2 318.1L168.2 316.5L170.1 312.3L172.6 308.9L176.7 307.5L179.2 304L181.8 300.7L185.6 298.9L189 296.7L192.9 295L195.6 291.8L197.5 287.7L201.8 286.5L205.6 284.8L208.1 281.4L212.1 279.8L215.9 278.2L219.4 276L222.7 273.6L224.5 269.3L227.5 266.5L231.9 265.6L234.5 262.3L237.3 259.2L241.1 257.6L244.2 254.9L247.4 252.4L249.9 249.1L252.2 245.3L256.7 244.6L260.8 243.3L263.3 239.9L267.1 238.2L270.9 236.5L273.9 233.7L277.1 231.3L279.4 227.6L282.6 225.2L287.4 224.8L290.2 221.9L292.5 218.2L296.2 216.3L299.1 213.5L301.9 210.5L304.8 207.7L307.4 204.4L311.6 203.4L316.1 202.7L318.5 199.1L321.4 196.3L325.4 194.9L328.4 192.2M-7.5 255.1L-5.3 258.6L-2.5 261.2L1.6 261.4L5.3 262.4L8.5 264.2L11.9 265.7L14.7 268.4L17.6 270.8L21.3 271.7L24.1 274.2L26.2 278.2L29.6 279.6L33.7 279.9L37 281.7L40.1 283.7L43.3 285.7L46 288.4L49.6 289.6L53.4 290.5L55.9 293.7L58.9 296L63.4 295.7L67.1 296.8L70 299.2L73.1 301.4L75.8 304.2L78.8 306.5L82.6 307.5L85.4 310.3L87.7 313.6L91.8 314.2L95.7 315.1L98.3 318L101.2 320.6L104.1 323.1L107.1 325.5L111.1 326.1L114.6 327.8L117.1 330.9L121.2 331.5L125.5 331.8L128.1 334.8L130.9 337.6L133.9 339.9L136.9 342.3L140.8 343.3L144 345.4L146.7 348.4L150.1 350.2L153.3 352.2L156.6 349.9L160 347.5L163 344.7L165.6 341.4L167.8 337.5L172.1 336.4L176.2 334.9L178.6 331.3L182.5 329.6L186.5 328.1L189.3 325.1L192.4 322.4L195 319L198.6 317L203.2 316.4L205.7 312.9L208.3 309.6L212.3 308.1L215 304.8L217.5 301.5L220.4 298.4L223.3 295.5L227.9 294.9L231.5 292.9L233.6 288.9L237.4 287.1L241.1 285.3L243.8 282.1L247.1 279.8L250.3 277.3L254.2 275.8L258.7 274.9L260.9 271.1L263.3 267.5L267.2 265.9L269.9 262.8L272.6 259.6L275.9 257.3L279 254.7L283.2 253.6L286.6 251.3L288.3 246.8L291.8 244.7L295.9 243.4L298.7 240.4L302.2 238.4L305.8 236.5L309.5 234.6L313.6 233.4L316 229.8L317.9 225.7L322 224.5L325.5 222.4L328 219.1M-7.5 278.8L-4.4 280.6L-1.1 282.3L2 284.3L4.7 287L8.2 288.4L11.6 289.9L13.7 293.5L16.5 296.1L20.7 296.2L24.3 297.3L27.1 299.9L30.2 301.9L33.1 304.4L36.1 306.5L40 307.3L43.2 309.2L45.7 312.3L49.6 312.9L54 312.7L57.1 314.9L59.9 317.5L63 319.6L65.8 322.2L69.3 323.7L72.9 324.9L75.3 328.3L78.3 330.5L82.6 330.6L85.8 332.6L88.1 336.1L91 338.5L94 340.9L97.3 342.6L101.3 343.3L104.3 345.7L107.2 348.2L111.6 348.2L115.3 349.5L117.6 352.9L120.6 355.3L123.9 357.2L127.2 359L131.2 359.8L134.2 362.2L136.6 365.5L140.5 366.4L143.9 368.2L146.1 371.9L149.2 374.1L152.7 375.7L156.2 377.5L159.2 374.9L162.2 372.1L165.5 369.7L169.1 367.7L173.6 367L176.3 363.9L178.4 360L182.3 358.5L185.4 355.9L187.5 352L190.8 349.7L194.1 347.4L197.8 345.7L201.4 343.7L203.1 339.3L206 336.6L210.3 335.5L212.9 332.3L216 329.7L219.9 328.3L223.5 326.4L227.5 325L230.3 322L232.1 317.8L236.1 316.4L239.8 314.6L242.1 311L245.4 308.9L249 306.9L252.1 304.4L255.4 302.1L257.2 297.9L259.7 294.6L264.2 293.9L267.5 291.7L270.2 288.6L274.2 287.2L277.7 285.3L281 283.1L284.2 280.6L286.2 276.7L289.7 274.8L294.4 274.3L297.1 271.3L299.8 268.3L303.4 266.5L306.3 263.7L309.2 261L311.8 257.9L314 254.1L318.1 252.9L322.4 252.1L324.7 248.6L327.8 246M-8.2 304.4L-4.7 305.6L-1.4 307.3L0.8 310.8L3.8 312.8L8 312.7L11.4 314.1L14 317L16.9 319.2L19.8 321.5L22.8 323.7L26.5 324.5L29.7 326.3L32.3 329.2L36.1 329.9L40.5 329.6L43.5 331.7L46.1 334.6L49.3 336.5L52.2 338.6L55.6 340.3L59.3 341.2L62 343.8L64.7 346.6L68.8 346.9L72.3 348.2L74.4 352L77 354.8L80.2 356.7L83.3 358.8L87 359.7L90.5 361.2L93 364.2L96.7 365.3L101 365.5L103.6 368.4L106 371.6L109.5 373L112.9 374.6L116.5 375.8L120.2 377L122.7 380L125.6 382.5L129.6 383.1L132.3 386L134.2 390L137.5 391.9L141 393.4L144.4 395L148 396.3L150.9 398.8L154.1 400.9L157.4 402.7L160.7 400.3L164.2 398.1L167.5 395.7L170.5 392.9L172.3 388.5L175.7 386.3L180 385.2L182.4 381.6L185.7 379.2L190 378.1L193.2 375.5L196.4 373.1L198.9 369.7L201.8 366.8L206.6 366.3L209.9 364L212.3 360.4L216.3 358.9L219.6 356.5L222.1 353.2L224.9 350.1L227.1 346.3L231 344.7L235.3 343.7L237.5 339.9L240.6 337.3L244.6 335.9L247.4 332.9L250.5 330.2L253.5 327.5L256.8 325.2L261.7 324.9L265.1 322.8L267.1 318.8L270.8 317L274.2 314.7L276.6 311.3L279.7 308.6L282.5 305.7L286.2 303.9L290.5 302.9L292.6 299L294.9 295.4L298.9 294L302 291.3L304.9 288.5L308.5 286.6L311.9 284.4L316.2 283.6L320 281.9L321.8 277.6L324.9 275L328.9 273.8M-8.2 329.4L-4.1 329.6L-1.5 332.3L1 335.4L4.1 337.4L7 339.7L10.2 341.3L13.9 342.2L16.7 344.7L19.7 346.9L24 346.7L27.8 347.4L30.3 350.5L33.1 353L36.5 354.5L39.6 356.4L43.3 357.4L46.8 358.7L49.3 361.6L52.6 363.4L56.7 363.6L59.5 366.3L61.5 370.2L64.5 372.3L67.8 374.1L71.1 375.8L74.8 376.8L77.8 379L80.5 381.7L84.5 382.2L88.2 383.3L90.4 387L93.3 389.4L97.1 390.2L100.6 391.7L104.3 392.7L107.7 394.4L110.2 397.6L113.5 399.3L117.3 400.2L119.5 403.8L121.8 407.3L125.5 408.4L129 409.9L132.4 411.7L135.7 413.4L138.1 416.7L141.2 418.9L145.2 419.6L148.1 422.2L151 424.6L154.7 425.9L157.9 427.9L161 425.3L163.9 422.4L166.9 419.6L170.1 417L174.8 416.5L178.2 414.3L180.4 410.4L184.4 408.9L187.8 406.7L190 402.9L193.1 400.3L196.2 397.6L200 395.9L203.9 394.4L205.7 390.1L208.4 386.9L212.5 385.5L215 382.2L217.9 379.3L221.6 377.5L225.2 375.5L229.6 374.6L232.6 371.9L234.5 367.8L238.5 366.3L242.2 364.5L244.6 361L248.1 358.9L251.6 356.8L255 354.7L258.6 352.7L260.3 348.3L262.7 344.8L267 343.8L269.9 341L272.7 338L276.6 336.4L280 334.3L283.7 332.6L286.8 330.1L288.8 325.9L292.5 324.2L297 323.6L299.7 320.5L302.9 318.1L306.7 316.3L309.7 313.7L312.9 311.3L315.2 307.7L317.3 303.7L321.5 302.8L325.4 301.3L327.7 297.7M-8.7 355.4L-5.7 357.5L-2.3 358.8L1.1 360.2L3.8 362.9L7.3 364.1L11.6 363.9L14.6 366L16.9 369.5L20.2 371.2L23.7 372.4L27.1 373.9L30.8 374.7L34 376.6L36.7 379.3L40.5 380.2L44.2 381.1L46.3 384.8L48.6 388.2L52.1 389.5L55.5 391.1L58.8 392.7L62.3 394.1L65 396.9L68 399.1L72.1 399.5L75.1 401.7L77.2 405.4L80.8 406.8L84.8 407.3L88.3 408.8L91.9 409.9L95 412.1L97.6 415.1L101.3 416.2L104.7 417.7L106.7 421.7L109.6 424.2L113.6 424.8L117 426.5L120.1 428.6L123.1 430.9L125.5 434.2L128.9 435.9L132.7 436.9L135.1 440.2L138.1 442.7L142.5 442.7L146.2 444L149.2 446.3L152.2 448.6L155.1 451.1L158.4 453.1L161.6 450.7L165.1 448.6L168.7 446.5L172.2 444.5L174.1 440.2L176.7 437L180.9 435.8L183.5 432.5L186.1 429.3L190.2 428L193.7 425.8L197.1 423.6L199.9 420.6L202 416.8L206.3 415.7L210.4 414.4L212.8 410.9L216.6 409.2L220.4 407.6L223.3 404.7L226.3 402L228.3 398L231.2 395.1L235.8 394.4L238.6 391.5L241 388L244.9 386.5L248.1 384L250.9 381.1L253.9 378.3L256.4 375L260.7 374L265.2 373.4L267.6 369.9L270.8 367.4L274.8 366L277.5 363L280.4 360.2L283.2 357.2L286.1 354.3L290.6 353.7L293.9 351.4L295.7 347.1L299 344.9L302.4 342.8L305 339.6L308.2 337.2L311.3 334.6L315 332.9L319.7 332.5L322.5 329.6L324.6 325.8L328.6 324.4M229.1 141.4C230.8 140.4 235.9 137.3 239.3 135.8C242.7 134.3 246.1 132.9 249.5 132.5C252.9 132 258 132.8 259.7 132.8M243 -3.7C246.4 -2.3 256.6 1.7 263.4 4.6C270.2 7.6 277 10.7 283.8 13.9C290.6 17.2 297.1 20.4 304.2 24.1C311.3 27.8 322.8 34.2 326.5 36.2M282 -5.6C285.1 -4.5 295 -1.4 300.5 0.9C306.1 3.2 311 6.2 315.4 8.3C319.7 10.5 324.6 13 326.5 13.9" stroke-width="10.6"/>
<path d="M224.4 102.2L222.1 104.1" stroke-width="10.4"/>
</g>
<g id="ps2" fill="none" stroke-linecap="round" stroke-linejoin="round">
<path d="M-8.2 -133.2L-4.6 -132.5L-2.2 -129.3L0.1 -126L3.7 -125L7.7 -124.9L11.1 -123.7L14.6 -122.5L18.2 -121.5L21.2 -119.4L24.1 -117.1L27.9 -116.4L31.5 -115.2L33.7 -111.6L35.9 -108.1L39.7 -107.2L43.6 -106.6L46.8 -104.5L49.9 -102.5L53 -100.3L55.5 -97.1L58.6 -95L62.5 -94.1L65.2 -91.2L67.2 -87.4L71.1 -86.4L75.7 -86.4L79.1 -84.5L82.3 -82.4L85.5 -80.2L88.1 -77.2L91.6 -75.3L95.6 -74.3L98 -70.9L100.4 -67.5L104.9 -67L108.8 -65.7L111.3 -62.3L114.1 -59.3L116.5 -55.9L119.2 -52.9L123.3 -51.6L126.2 -48.7L128.4 -45L133.1 -44.5L137.3 -43.2L139.7 -39.7L142.7 -36.8L145.6 -33.8L149.1 -31.7L153.6 -30.6L156 -27.1L159.1 -24.2L163.8 -23.4L166.1 -19.5L168.5 -15.8L171.6 -13L175 -10.5L178.1 -12.9L181 -15.6L183.8 -18.4L187 -20.7L191.7 -20.7L195.2 -22.6L197.3 -26.3L201.2 -27.5L204.9 -28.8L207.2 -32.3L210 -35L213.2 -37.2L216.4 -39.3L220.7 -39.7L223.8 -41.9L225.5 -46.3L228.6 -48.4L232.5 -49.4L235 -52.5L237.7 -55.3L241.2 -56.7L244.7 -58.4L248.7 -59L252.7 -59.5L255.1 -62.8L257.5 -66.1L261.5 -66.6L265.1 -67.7L267.6 -70.7L270.8 -72.6L274.4 -73.8L277.7 -75.5L281.3 -76.5L284.6 -78L286.6 -82L288.9 -85.4L292.7 -86L296.3 -87.1L298.8 -90L301.9 -91.9L305.6 -92.6L309 -94L312.5 -95.1L316 -96L318.5 -98.9L320.9 -102.2L324.7 -102.7L328.9 -102.2M-8.3 -108.4L-4.9 -107.1L-1.6 -105.7L1.9 -104.6L4.9 -102.6L7.9 -100.6L11.7 -100L15.2 -98.8L17.4 -95.3L20 -92.3L23.9 -91.9L28 -91.7L31 -89.6L33.9 -87.2L37 -85.2L39.6 -82.2L42.5 -79.8L46.2 -78.8L49.3 -76.6L51.4 -72.8L54.7 -71.1L59.4 -71.5L63 -70.2L65.8 -67.5L69.1 -65.4L72 -63L75 -60.6L79 -59.7L82.4 -57.8L84.6 -54.2L88.2 -52.6L92.9 -52.5L95.9 -50L98.2 -46.3L101 -43.5L103.5 -40.3L106.8 -38L110.7 -36.7L113.2 -33.3L115.9 -30.2L120.6 -30L124.2 -28L126.3 -24.1L129.3 -21.4L132.5 -18.9L136.2 -17L140.6 -16.1L143.2 -12.7L146.3 -10L151.1 -9.3L153.6 -5.9L155.4 -1.4L158.5 1.3L161.6 4.1L165.6 5.9L168.7 8.7L171.6 11.9L175 14.3L178.3 12.1L181.8 10.3L185.4 8.7L189 7L190.7 2.7L193.3 -0.4L197.6 -1.1L200.2 -4.1L202.6 -7.5L206.5 -8.6L210.1 -10.1L213.5 -12L216.8 -13.9L218.8 -17.7L221.7 -20.3L226.3 -20.2L229.8 -21.8L232.3 -24.9L236.1 -25.9L240 -26.9L243 -29.1L246.2 -31.1L248.6 -34.2L250.8 -38L254.5 -38.9L258.7 -39.2L261.2 -42.3L263.8 -45.2L267.6 -46.1L270.9 -47.7L273.7 -50.2L276.8 -52.2L279.4 -55L282.2 -57.6L286.5 -57.4L290.8 -57.2L293.5 -59.7L296.3 -62.2L300.1 -62.8L303.6 -64L306.4 -66.4L309.4 -68.3L312.3 -70.6L315 -73.2L318.7 -73.8L322.9 -73.4L325.8 -75.6L328 -79.2M-8.2 -83.4L-4.5 -83L-1.3 -81.2L1 -77.9L4.1 -76L8.3 -76.4L12.2 -76L15 -73.5L17.8 -71.1L20.8 -69.1L23.5 -66.4L26.5 -64.2L30.1 -63.1L33.1 -61L35.3 -57.4L38.7 -55.9L43.2 -56.3L46.8 -55L49.4 -52L52.4 -49.7L55.5 -47.7L58.5 -45.4L62.3 -44.3L66.1 -43.2L68.7 -40.2L71.7 -37.9L76.4 -38L80 -36.6L82.1 -32.7L84.7 -29.7L87.7 -27.2L90.6 -24.5L94.3 -23L97.7 -21.1L99.9 -17.3L103.4 -15.5L107.9 -15L110.4 -11.8L112.5 -7.9L115.9 -5.8L119.3 -3.6L123.2 -2.2L127.3 -1L129.8 2.4L133.2 4.6L137.8 5.3L140.1 9L142 13.3L145.5 15.4L148.8 17.8L152.6 19.7L155.9 22.3L157.7 26.6L161.6 28.4L165.1 30.8L167.4 34.6L171 36.8L174.6 39.1L177.8 36.8L180.7 34.2L183.4 31.2L185.9 27.9L190.4 27.5L194.4 26.5L196.6 22.8L200.3 21.3L204.4 20.6L207.1 17.6L209.9 14.9L212.9 12.4L215.8 9.9L220.2 9.6L224 8.4L225.9 4.4L228.7 1.7L232.6 0.7L235.2 -2.2L237.7 -5.4L240.8 -7.5L243.9 -9.7L247.7 -10.7L252.1 -10.7L254.9 -13.3L257.1 -16.9L260.9 -17.8L264.7 -18.6L267.4 -21.4L270.4 -23.5L274 -24.8L277.3 -26.4L281.2 -27L285 -27.7L287.2 -31.2L289.3 -35L292.9 -36L296.5 -37.1L299 -40.1L301.9 -42.3L305.4 -43.5L308.6 -45.1L312.2 -46.1L316 -46.6L318.6 -49.3L320.8 -53L324.2 -54.1L328.4 -53.8M-7.2 -60.6L-3.8 -59.3L-1.3 -56.4L1.6 -54.2L4.7 -52.3L7.5 -49.8L10.6 -48.1L14.2 -47.1L17 -44.7L19.4 -41.5L23 -40.5L27.4 -40.9L30.6 -39.2L32.9 -35.8L35.8 -33.5L39.1 -31.8L42.2 -29.8L45.9 -28.7L49.7 -27.8L52.6 -25.3L55.5 -22.9L59.9 -22.9L63.8 -22.1L66 -18.5L68.4 -15L71.6 -13.1L74.7 -10.8L78 -8.9L81.7 -7.6L84.3 -4.5L86.9 -1.4L91.1 -0.8L94.6 1L96.3 5.4L99 8.4L102.8 9.8L106.3 11.7L110.3 12.9L113.9 14.6L116.3 18L120.2 19.6L124.4 20.6L126.3 24.7L128.6 28.3L132.6 29.8L136.1 31.9L139.7 33.8L142.8 36.6L144.6 40.8L148.3 42.8L151.8 45L153.2 49.8L156.5 52.3L161 53.5L164.5 55.7L167.9 58.1L170.8 61.3L174 63.9L177.2 61.5L180.6 59.5L184.3 58L188.5 57.1L190.7 53.4L192.9 49.8L197.1 48.9L200 46.3L202.1 42.5L205.6 40.8L209.2 39.1L212.7 37.4L216.3 35.9L218.4 32.1L220.7 28.7L225.1 28.3L228.7 26.9L231.2 23.8L234.9 22.5L238.9 21.8L242.4 20.1L245.9 18.7L248.6 15.9L250.6 11.9L254.2 10.5L258.4 10.3L261 7.5L263.7 4.6L267.4 3.5L270.7 1.9L273.7 -0.3L276.8 -2.3L279.3 -5.5L281.7 -8.8L285.7 -9.1L290 -8.9L292.8 -11.4L295.7 -13.7L299.6 -14.1L303.2 -15.2L306.2 -17.2L309.5 -18.8L312.3 -21.3L314.8 -24.2L318.6 -24.7L322.9 -24.1L325.9 -26.1L328.3 -29.4M-8.4 -32.8L-5 -31.6L-1.6 -30.3L1.1 -27.6L3.9 -25.2L8 -25.1L11.9 -24.8L14.5 -21.8L16.8 -18.4L20.1 -16.6L23.5 -15.1L26.7 -13.4L30.5 -12.6L34.2 -11.5L37 -8.8L40.4 -7.2L44.9 -7.4L48.3 -5.8L50.3 -1.8L53 1L56.7 2.4L60 4.3L63.5 6L67 7.5L69.6 10.7L72.4 13.4L76.6 14.2L79.7 16.5L81.3 21.1L84.3 23.7L88.3 24.7L91.9 26.5L95.7 27.9L99.2 29.8L101.7 33.1L105.5 34.6L109.7 35.7L111.8 39.7L114.3 43.1L118.7 43.9L122.4 45.8L125.8 48L128.9 50.6L130.9 54.8L134.3 57.1L138 59L139.6 63.7L142.6 66.5L147.3 67.3L150.8 69.7L154.2 72.1L156.8 75.5L159.6 78.7L164.1 80L166.9 83.2L170 86.1L173.4 88.8L176.8 86.6L179.9 84.2L182.7 81.3L184.7 77.3L188.7 76.1L193 75.4L195.3 71.9L198.7 69.9L203 69.4L206.1 67L209.1 64.4L212 61.8L214.7 58.9L219 58.4L223.3 57.9L225.5 54.4L228.4 51.7L232.3 50.8L235.2 48.1L237.6 44.9L240.5 42.4L243.2 39.4L246.8 38.1L251.3 38.2L254.2 35.8L256.5 32.2L260.2 31.1L264 30.1L266.7 27.4L269.8 25.3L273.2 23.7L276.4 21.9L280.5 21.6L284.7 21.5L287.2 18.4L289.4 14.9L293.1 13.9L296.6 12.6L299.1 9.6L302 7.4L305.3 5.8L308.4 3.8L312.1 3.1L316 2.8L318.6 -0.1L320.8 -3.9L324.2 -5.1L328.1 -5.3M-7.6 -9.2L-4.5 -7.5L-2.3 -3.6L0.3 -0.8L3.8 0.2L7.2 1.5L10.5 2.9L14.3 3.7L17.7 5.1L20.5 7.6L24.1 8.7L28.3 8.6L31.4 10.7L33.5 14.6L36.4 16.9L40.3 17.7L43.8 19.2L47.1 20.9L50.7 22.3L53.4 25.1L56 28.1L59.9 29.1L63.2 30.9L65 35.3L67.5 38.4L71.6 39.2L75.3 40.5L78.7 42.4L82.3 44L85.1 46.9L88 49.5L92.3 50.1L95.5 52.5L97.4 56.6L101.1 58.2L105.7 58.7L109 60.9L112.2 63.2L115 66.2L117.2 70L120.9 71.7L124.2 74.1L125.8 78.7L129.4 80.7L134 81.4L137 84.2L140 87L142.7 90.3L145.5 93.5L150 94.4L153.1 97.3L155.5 100.9L160.5 101.5L163.9 103.9L166.4 107.6L169.3 110.7L172.4 113.6L175.5 110.9L178.7 108.6L182.2 106.7L186.8 106.4L189.7 103.5L191.8 99.7L195.9 98.7L199.2 96.5L201.3 92.6L204.5 90.5L207.9 88.5L211.5 86.9L215.5 85.8L217.7 82.1L219.8 78.2L223.8 77.3L227.4 75.7L229.8 72.4L233.4 70.8L237.3 69.9L241 68.5L245 67.8L247.9 65.2L249.9 61.2L253.5 59.8L257.7 59.5L260.4 56.7L263.2 54L267 53L270.3 51.3L273.6 49.4L276.9 47.7L279 44L281.3 40.4L285.3 39.9L289.3 39.5L292 36.8L295.1 34.8L299.1 34.3L302.5 33L305.8 31.4L309.3 30L311.9 27.2L314.5 24.2L318.5 24.2L322.8 24.6L325.7 22.3L328.5 19.7M-8.8 18.4L-5.4 19.7L-1.8 20.5L1.2 22.4L4.2 24.6L8 25.1L11.9 25.4L14.5 28.3L16.7 31.9L20.2 33.1L24.2 33.3L27.7 34.7L31 36.4L34.4 37.9L37.1 40.6L39.8 43.3L43.5 44.3L46.8 46.1L48.7 50.3L51.2 53.4L55.3 53.9L59.1 54.9L62.2 57.1L65.5 58.9L68.5 61.4L71.2 64.3L75 65.4L78.8 66.7L81 70.4L83.9 72.9L88.7 72.9L92.5 74.1L95.4 76.8L98.5 79.3L101 82.6L103.8 85.4L107.8 86.7L110.4 89.9L112.4 93.9L116.6 94.9L120.8 96L123.2 99.4L126 102.4L128.7 105.6L131.7 108.4L136.1 109.3L139.1 112.1L141.7 115.4L146.7 115.7L150.6 117.6L152.7 121.5L155.6 124.5L158.3 127.9L162 129.9L165.4 132.4L168.1 135.8L171.4 138.4L174.8 136.4L178.2 134.3L181.3 132L183.2 127.8L186.3 125.4L190.7 124.9L193.2 121.7L195.9 118.8L200.2 118.2L203.7 116.5L206.8 114.1L209.8 111.8L212.1 108.3L215.6 106.7L220.4 107L223.4 104.7L225.9 101.5L229.9 100.6L233.4 99.1L236 96.1L238.8 93.6L241.2 90.3L243.9 87.5L248.2 87.4L252 86.4L254.2 82.8L257.1 80.5L261.1 79.8L264.1 77.7L266.9 75.1L270.1 73.2L273 70.9L276.5 69.6L281.1 70.2L284.7 69.3L287 65.8L290 63.8L293.9 63.2L296.8 61.1L299.5 58.4L302.6 56.5L305.6 54.3L308.7 52.6L312.7 52.6L316.3 51.7L318.5 48.1L321 45L324.6 44.3L328 43.2M-7.9 41.9L-4.7 43.4L-2.4 46.9L0.4 49.3L4.5 49.2L8.4 49.4L11.6 51L14.9 52.6L18.1 54.3L20.8 56.9L23.7 59.2L27.4 60.1L30.4 62.2L32.4 66.2L35.2 68.7L39.4 68.8L43.1 69.7L46 72.3L49 74.4L52 76.7L54.6 79.6L58.2 81L62 81.9L64.6 85L67.2 87.9L71.8 87.9L76.1 88.3L78.9 91L81.8 93.6L84.7 96.2L87.3 99.2L90.9 100.8L94.5 102.4L96.6 106.3L99.5 108.9L104.2 109.2L107.3 111.6L109.4 115.5L112.2 118.3L114.9 121.3L118.3 123.4L122.6 124.3L125.3 127.5L128.2 130.2L133.2 130.4L136.6 132.6L138.6 136.7L141.7 139.3L144.7 142.1L148.6 143.9L152.5 145.6L154.4 149.8L157.8 152.2L161.7 154L163.8 158L166.9 160.8L170.4 163.2L173.4 160.5L176.4 157.8L179.4 155.3L183.9 154.9L187.6 153.3L189.7 149.4L193.5 148L197.3 146.8L199.6 143.2L202.5 140.6L205.7 138.4L209.1 136.4L213.3 135.9L216.4 133.5L218.1 129L221.4 127.1L225.2 126L227.6 122.6L230.5 120L234.1 118.6L237.6 117L241.7 116.5L245.5 115.5L247.7 111.8L250.4 109L254.6 108.8L258 107.1L260.5 104.1L264 102.6L267.6 101.4L270.9 99.7L274.6 98.8L277.5 96.4L279.3 92L282.2 89.6L286.3 89.4L289.4 87.5L292 84.5L295.5 83.3L299.1 82.4L302.4 80.8L306 79.9L309.2 78.2L311.5 74.6L314.4 72.5L318.7 73L322.5 72.5L325.3 70L328.5 68.5M-7.4 66.4L-4.4 68.4L-1.1 69.9L2 71.9L4.8 74.4L8.2 75.7L11.7 76.8L14.2 79.9L16.6 83.3L20.4 84L24.6 83.9L27.7 86.1L30.3 89L33.3 91.1L36.2 93.6L39.1 96L43 96.9L46.4 98.5L48.8 101.8L52.3 103.4L57 102.9L60.7 104.2L63.2 107.4L66.2 109.8L69.3 112.1L72.3 114.6L76.1 115.8L79.5 117.7L81.7 121.4L85.2 123.3L89.7 123.7L92.4 126.7L94.3 130.8L97.3 133.5L100.2 136.1L103.8 138L107.9 139.2L110.5 142.3L113.6 144.9L118.5 145.2L121.7 147.6L123.6 151.8L126.9 154.1L130.4 156.3L134.2 158L138.3 159.6L140.5 163.4L143.6 166.2L147.9 167.4L149.7 171.9L151.6 176.1L155.4 178.1L159 180.3L162.8 182.3L165.9 185.3L169.2 188L172.6 185.9L176.2 184.1L179.8 182.4L182 178.5L184.6 175.3L188.9 174.6L191.6 171.5L194 168.1L198 167.1L201.6 165.4L205 163.4L208.2 161.1L210.2 157.2L213.5 155.1L218.3 155.3L221.5 153.1L224.2 150.2L228.3 149.5L232 148.2L235 145.8L238.1 143.5L240.3 139.9L243 136.9L247.3 136.8L251 135.4L253.2 131.8L256.4 129.9L260.2 128.9L263.2 126.5L266.2 124.1L269.2 121.8L271.7 118.8L275.4 117.7L280.1 118.5L283.5 116.9L286 113.8L289.6 112.7L293.4 112L296.3 109.7L299.3 107.5L302.4 105.5L305.2 102.8L308.7 101.6L313 102.1L316.2 100.4L318.4 96.6L321.4 94.5L325 93.7L328 91.6M-7.7 92.5L-4.6 94.3L-2.3 97.6L0.8 99.4L5 99.1L8.7 99.9L11.2 102.9L13.8 105.7L16.9 107.7L19.8 110.1L22.9 112L26.6 112.9L29.8 114.7L32.3 117.7L36 118.8L40.6 118.3L44 119.9L46.3 123.3L49.3 125.7L52.6 127.4L55.7 129.6L59.4 130.7L63.1 132.1L65.5 135.3L68.6 137.6L73 137.9L76.1 140.2L77.8 144.6L80.5 147.6L83.8 149.6L86.9 151.9L90.8 153.2L94.1 155.2L96.5 158.6L100.4 160L104.7 160.7L106.9 164.4L109.3 168L113.1 169.4L116.8 171.2L120.7 172.7L124.4 174.5L126.6 178.4L129.9 180.6L134 182.1L135.6 186.6L137.8 190.4L141.8 192L145.2 194.3L148.9 196.3L151.7 199.4L153.9 203.3L158.2 204.7L161.4 207.4L164.3 210.4L167.9 212.8L170.9 210.3L173.8 207.5L176.4 204.3L180.3 203.2L184.6 202.4L186.8 198.8L190.3 196.9L194.5 196.3L197.3 193.4L200 190.5L203.1 188.2L206.1 185.7L210.4 185.2L214.3 184.2L216.2 180.1L218.9 177.3L222.8 176.4L225.5 173.5L227.9 170.2L231.1 168.1L234.2 165.9L238 165L242.4 164.9L245.1 162.1L247.3 158.5L251.1 157.6L254.9 156.7L257.6 153.9L260.7 151.9L264.3 150.7L267.6 149.1L271.5 148.5L275.3 147.6L277.4 143.9L279.6 140.2L283.3 139.4L286.8 138.2L289.3 135.1L292.3 133L295.8 131.8L299.1 130.2L302.6 129.3L306.3 128.5L308.8 125.5L311 121.9L314.7 121.2L318.8 121.4L321.9 119.6L324.9 117.5L328.5 116.9M-7.5 117.4L-5.2 120.9L-2.2 123.1L0.9 124.9L3.9 127.1L7.3 128.4L10.9 129.4L13.8 131.9L16.7 134.3L20.9 134.3L25.1 134.5L27.7 137.5L30.1 140.8L33.5 142.3L37 143.8L40.4 145.5L44.3 146.3L47.6 148.1L50.2 151.2L53.8 152.6L58 153.1L60.5 156.4L62.3 160.7L65.4 163L69 164.6L72.2 166.7L76 168.1L79.1 170.5L81.5 173.9L85.5 175L89.5 176.2L91.5 180.2L94.1 183.4L98.3 184.3L102.2 185.8L106 187.4L109.6 189.3L111.9 193L115.3 195.2L119.4 196.5L121.2 200.9L123.5 204.6L127.7 205.8L131.3 207.9L134.6 210.4L137.5 213.4L139.5 217.5L143.5 219.2L147 221.5L148.8 225.9L153.1 227.4L157.5 228.7L160.6 231.6L163.6 234.5L166.6 237.6L169.9 235.4L173.5 233.5L177.5 232.4L180.3 229.4L182.4 225.5L186.5 224.6L189.6 222.2L191.7 218.3L195.2 216.5L198.9 214.9L202.3 213.1L205.9 211.4L208 207.6L210.4 204.2L214.8 203.8L218.4 202.4L220.9 199.2L224.7 198L228.7 197.3L232.1 195.5L235.7 194L238.3 191L240.4 187.1L244.2 186.1L248.3 185.7L250.9 182.6L253.6 179.9L257.4 179L260.7 177.1L263.6 174.8L266.7 172.6L269 169.1L271.7 166.4L276.1 166.6L280.1 166.2L282.8 163.4L285.9 161.5L289.9 161.1L293.3 159.6L296.3 157.6L299.5 155.9L302.2 153.1L305.1 150.8L309.3 151L313.4 151L316 148.1L318.5 145.2L322.1 144.2L325.4 142.8L328.1 140.2M-8.5 144.8L-5.2 146.2L-2.5 148.8L0.7 150.4L4.9 150.2L8.5 151.3L10.8 154.8L13.3 157.7L17 158.7L20.6 159.7L24.1 161.2L27.8 162L31.2 163.7L33.9 166.5L37.4 167.9L41.5 168.3L44.1 171.3L45.9 175.6L49 177.8L52.8 178.8L56.1 180.8L59.5 182.5L62.8 184.5L65.3 187.8L68.4 190L72.6 190.7L75.2 193.7L77.2 197.7L81 199L85.4 199.6L88.9 201.4L92.6 203L95.6 205.6L98.2 208.9L102.1 210.2L105.6 212.2L107.3 216.7L110.4 219.2L114.9 219.9L118.1 222.4L121.1 225.2L123.7 228.4L125.9 232.3L129.8 233.9L133.3 236.2L135.1 240.4L139.3 241.8L144.1 242.5L147.1 245.4L150.2 248.2L152.7 251.7L156 254.3L159.9 256.3L162.6 259.6L165.8 262.4L169 260.2L172 257.6L174.3 254L177.5 251.8L182 251.4L184.5 248.2L187.4 245.6L191.7 245.2L195 243.1L197.8 240.4L200.8 238L203.4 235L207.3 233.9L211.9 234L214.5 231.1L216.8 227.7L220.7 226.7L223.9 224.7L226.2 221.3L229 218.7L231.7 216L234.8 213.8L239.2 213.9L242.8 212.5L244.8 208.7L247.9 206.7L251.9 206.2L254.9 203.9L257.7 201.3L261.1 199.8L264.3 198L267.9 197L272.3 197.3L275.5 195.5L277.4 191.6L280.5 189.5L284.3 188.9L287.1 186.6L289.7 183.7L292.9 182L296.1 180.3L299.3 178.8L303.2 178.5L306.5 177.1L308.6 173.2L311.1 170.4L315 170.2L318.6 169.3L321.4 167L324.6 165.6L328.2 164.9M-8.1 168.8L-5.9 172.6L-3 174.8L0.9 175.1L4.5 175.9L7.9 177.3L11.6 178.2L14.9 179.8L17.7 182.4L21.2 183.6L25.2 184.1L27.8 186.9L29.7 191L32.9 192.9L37 193.4L40.3 195.1L43.5 197.2L46.7 199.1L49.3 202.1L52.1 204.8L56 205.7L59.1 207.9L61 212L64.2 214.1L68.8 214.1L72.6 215.4L75.8 217.5L79.2 219.4L81.9 222.4L85 224.8L89.1 225.7L91.9 228.6L93.9 232.5L98.1 233.6L102.3 234.4L105.1 237.5L107.8 240.4L110.3 243.8L112.8 247.2L116.8 248.6L119.9 251.2L121.9 255.2L126.3 256.2L130.8 257L133.4 260.3L136.4 263.2L139.2 266.3L142.5 268.8L147.1 269.8L149.7 273.2L152.5 276.3L156.9 277.6L159.5 281.1L162.1 284.5L165.4 287.2L168.4 284.7L171.7 282.6L175.9 281.7L179.3 279.8L181.3 275.8L185 274.4L188.7 272.9L190.8 269.1L193.7 266.5L197.2 264.8L200.6 262.9L204.5 261.9L207.2 259.1L208.9 254.6L212.3 252.9L216.4 252.1L218.9 249L221.9 246.7L225.9 245.9L229.5 244.5L233.3 243.5L236.7 242L238.8 238.2L241.5 235.5L245.8 235.4L249.2 233.8L251.6 230.5L255 229L258.6 227.9L261.7 225.9L265 224.2L267.7 221.6L269.6 217.5L272.6 215.3L276.9 215.5L280.3 214L282.8 211.1L286.3 209.9L290.1 209.3L293.3 207.7L296.6 206.2L299.8 204.5L302.2 201.3L305.2 199.3L309.5 199.9L313.4 199.6L316 196.8L318.9 194.7L322.5 194L325.7 192.4L328.5 190.1M-8.2 193.8L-4.6 194.8L-1.4 196.4L1.5 198.7L5 199.9L8.8 200.4L11.6 203.1L13.7 206.8L17 208.4L21.2 208.4L24.6 209.8L27.6 212.1L30.7 214.1L33.5 216.8L36.1 219.7L39.7 221L43.1 222.5L45.3 226.3L48 229.1L52.4 229.1L56.5 229.7L59.5 232.1L62.7 234.2L65.8 236.5L68.5 239.3L72.4 240.5L76.1 241.8L78.4 245.4L81.4 247.9L86.1 247.9L89.7 249.7L92 253.3L94.8 256.2L97.3 259.4L100.2 262.2L104.2 263.4L106.9 266.5L109.3 270L113.9 270.6L117.9 272L120.1 275.7L123 278.6L126.1 281.3L129.6 283.5L134.1 284.3L136.9 287.5L139.7 290.5L144.6 291.1L147.4 294.1L149.2 298.6L152.2 301.5L155.2 304.4L159 306.4L162.2 309.2L165.4 312L168.8 310L172 307.8L174.3 304.3L177 301.3L181.4 300.7L184.1 297.9L186.6 294.7L190.8 293.9L194.4 292.3L197.4 289.9L200.5 287.6L202.8 284.2L206.2 282.3L211 282.6L214.2 280.6L216.6 277.3L220.4 276.3L224 274.9L226.6 271.9L229.4 269.3L231.9 266.2L234.6 263.3L238.8 263L242.7 262.2L244.9 258.6L247.7 256.1L251.6 255.4L254.7 253.4L257.4 250.6L260.6 248.8L263.6 246.5L267 245.1L271.5 245.7L275.3 244.8L277.5 241.4L280.4 239.2L284.3 238.6L287.4 236.7L290 233.9L293.1 232L296.1 230L299.2 228.1L303.2 228L306.8 227.2L309 223.7L311.4 220.4L315 219.6L318.5 218.6L321.2 216.1L324.3 214.3L327.8 213.3M-7.5 217.3L-4.9 220.1L-2.5 223.3L1.2 224.1L5.5 223.7L8.8 225.2L11.6 227.7L14.7 229.8L17.5 232.2L20.2 235L23.6 236.5L27.1 237.8L29.5 241.1L32 244.1L36.2 244.3L40.5 244.4L43.4 246.9L46.2 249.5L49.4 251.5L52.3 254L55.7 255.7L59.8 256.5L62.7 258.9L65.3 262.1L69.5 262.6L73.9 263L76.4 266.2L78.8 269.7L81.7 272.3L84.4 275.2L87.9 277.1L91.6 278.6L93.9 282.2L96.9 284.9L101.5 285.2L104.7 287.6L106.6 291.7L109.7 294.2L113 296.5L116.8 298.2L121.1 299.2L123.9 302.3L126.9 305L131.7 305.6L134.4 308.7L136.1 313.2L139.4 315.7L142.7 318.2L146.5 320.1L150 322.4L151.8 326.8L155.6 328.8L159.1 331.1L161.8 334.5L165.4 336.8L168.3 334.2L171.3 331.6L175.2 330.4L179.2 329.2L181.3 325.5L184.8 323.6L188.9 322.8L191.3 319.4L194 316.5L197.3 314.5L200.5 312.4L204.6 311.7L208 309.9L209.7 305.4L212.5 302.8L216.5 301.9L219.1 299L221.6 295.9L225.2 294.5L228.7 293L232.6 292.1L236.6 291.5L239 288.2L241.3 284.8L245.4 284.3L249.1 283.3L251.7 280.3L254.8 278.4L258.5 277.4L261.8 275.7L265.4 274.5L268.6 272.8L270.5 268.7L272.9 265.4L276.8 264.9L280.3 263.8L282.9 260.8L286 258.9L289.7 258.2L293 256.7L296.5 255.5L299.9 254.2L302.3 251.1L304.8 248.1L308.8 248L313 248.3L315.9 246.3L318.8 244.1L322.5 243.4L325.9 242.4L328.9 240.5M-7.2 241.5L-4.5 244.2L-1.5 246.1L1.5 248.3L4.3 250.8L7.6 252.2L11.1 253.5L13.6 256.6L16.2 259.4L20.3 259.6L24.5 259.7L27.3 262.2L29.8 265.3L33 267.2L36.1 269.3L39.3 271.2L43.3 271.9L46.7 273.5L49.3 276.5L53 277.7L57.6 277.5L60.7 279.8L62.7 283.7L65.7 286.3L68.8 288.5L71.8 290.9L75.6 292.2L78.8 294.5L81 298.1L84.7 299.6L89 300.3L91.1 304.1L93.2 307.9L96.8 309.8L100.2 311.7L104.1 313.2L108.2 314.4L110.7 317.7L114.1 319.9L118.7 320.5L121.1 324L123 328.2L126.7 330L130.3 332.1L134 334.1L137.4 336.4L139.2 340.7L142.6 343.1L146.5 344.9L147.9 349.7L150.9 352.6L155.4 353.9L158.9 356.2L162.3 358.7L165.4 361.6L168.8 359.7L172.4 358L175 354.9L177.3 351.3L181.4 350.4L184.5 348.1L186.7 344.3L190.4 343L194.2 341.6L197.3 339.4L200.6 337.4L202.9 333.9L205.5 330.9L210.1 330.9L213.9 329.7L216.3 326.5L220 325.2L224 324.5L227 322.2L230.1 319.9L232.7 317L234.8 313.4L238.6 312.3L242.8 312.1L245.3 309.1L247.8 306L251.6 305L254.9 303.3L257.6 300.6L260.7 298.5L263.4 295.8L266.2 293.4L270.6 293.6L274.8 293.7L277.5 290.9L280.2 288.4L284.1 287.9L287.5 286.6L290.3 284L293.3 282.1L296.3 280L299.1 277.6L303 277.2L307.1 277.4L309.8 274.7L311.9 271.1L315.2 269.6L318.7 268.7L321.5 266.2L324.3 264L327.6 262.5M-8.2 268.4L-4.9 269.7L-2.3 272.7L0.5 275L4.6 275.1L8.5 275.4L11.1 278.3L13.5 281.6L16.7 283.4L19.9 285.1L23.2 286.9L27 287.6L30.6 288.8L33.3 291.6L36.7 293.1L41.2 292.9L44.7 294.4L46.7 298.4L49.4 301.2L52.9 302.7L56.1 304.8L59.6 306.4L63.2 307.9L65.6 311.1L68.5 313.8L72.7 314.5L75.8 316.8L77.4 321.3L80.3 324L84.1 325.3L87.6 327.1L91.5 328.3L95 330.2L97.5 333.6L101.4 335L105.6 336L107.6 340L110 343.5L114.2 344.5L117.9 346.4L121.4 348.5L124.6 351L126.5 355.2L129.9 357.4L133.6 359.3L135.1 364.1L138 367L142.6 368L146.1 370.2L149.6 372.5L152.3 375.8L155.1 378.9L159.2 380.6L162.2 383.6L165.4 386.4L168.3 383.8L171 380.8L174.5 379L178.8 378.2L181.1 374.8L184.3 372.5L188.6 372L191.5 369.4L194.1 366.3L197.3 364.1L200.3 361.7L204.4 360.9L208.5 360.2L210.5 356.4L212.9 353.1L216.8 352.1L219.7 349.6L222 346L225.1 343.9L228.3 341.9L231.9 340.6L236.3 340.5L239.2 338.1L241.2 334.2L244.9 333L248.8 332.4L251.6 329.7L254.5 327.5L258.2 326.4L261.5 324.8L265.3 324L269.1 323.3L271.4 319.9L273.4 316L277 314.9L280.7 314L283.2 311.1L286 308.6L289.6 307.5L292.8 306L296.3 304.7L300 304L302.6 301.3L304.7 297.5L308.2 296.4L312.4 296.8L315.6 295.3L318.5 293L322 292.2L325.7 291.5L328.9 290.1M-7.5 291.7L-5.2 295.2L-2.8 298.4L0.5 299.9L3.9 301.2L7.1 302.8L10.8 303.7L14.4 304.8L17.2 307.3L20.5 308.9L24.8 308.7L28.4 310L30.4 313.8L33.1 316.7L36.8 317.8L40.3 319.2L43.6 321L47.2 322.3L50.1 324.8L52.6 328L56.3 329.2L60 330.5L61.9 334.6L64.1 338.4L67.9 339.5L71.7 340.8L75.1 342.6L78.8 344.1L81.7 346.7L84.4 349.6L88.7 350.4L92.1 352.3L94 356.5L97.3 358.7L101.8 359.2L105.3 361.1L108.7 363.3L111.6 366.2L113.7 370.1L117.3 372L120.8 374.1L122.3 378.8L125.5 381.3L130.1 382L133.3 384.5L136.4 387.2L139.1 390.4L141.7 393.8L146.2 394.9L149.4 397.6L151.7 401.3L156.3 402.4L159.7 404.8L162.4 408.2L165.4 411.2L168.7 409.2L172.5 407.7L175.6 405.4L177.8 401.6L181.6 400.3L185.1 398.5L187.1 394.6L190.3 392.5L194.1 391.1L197.4 389.1L200.9 387.5L203.3 384.2L205.3 380.2L209.3 379.4L213.4 378.6L215.9 375.5L219.3 373.7L223.4 373.2L226.9 371.5L230.3 369.9L233.3 367.6L235.2 363.6L238.4 361.7L242.8 361.7L245.8 359.4L248.2 356.1L251.7 354.8L255.2 353.5L258.1 351L261.1 348.9L263.7 346L266 342.6L269.8 341.8L274.2 342.2L277.2 340.1L279.9 337.4L283.6 336.6L287.3 335.8L290.3 333.7L293.5 331.9L296.4 329.8L299 327L302.6 326.1L307 326.7L310.2 325.2L312.5 321.8L315.5 319.9L319.1 319.1L322 316.9L324.7 314.4L327.8 312.6M-8.8 319.2L-5.3 320.1L-1.8 321.3L1 323.7L4.4 325.1L8.5 325L11.9 326.5L14 330.2L16.8 332.9L20.7 333.4L24.4 334.3L27.7 336L31.2 337.3L34.3 339.4L36.8 342.5L40.2 344.2L44 345.2L46.3 348.6L48.2 352.7L51.7 354.2L55.8 354.8L59.1 356.7L62.4 358.6L65.7 360.7L68.2 363.8L71.7 365.5L75.8 366.3L78.4 369.5L80.7 373L85.1 373.5L89.4 374.1L92.5 376.6L95.7 378.9L98.4 382L100.8 385.3L104.7 386.8L107.8 389.4L109.5 393.8L113.2 395.5L117.7 396.2L120.5 399.2L123.3 402.3L126 405.5L128.7 408.6L133.1 409.7L136.4 412.1L138.7 415.8L143.5 416.4L147.7 417.8L150.1 421.5L152.9 424.7L155.5 428.1L159 430.5L162.4 433L165.4 436L168.5 433.6L171.1 430.5L174.1 428L178.3 427.2L181 424.2L183.7 421.3L188.1 420.8L191.4 418.9L194.1 416L197.2 413.7L199.9 410.8L203.7 409.5L208.4 409.6L211.1 406.8L213.3 403.3L217.2 402.3L220.4 400.3L222.7 396.8L225.5 394.2L228.3 391.6L231.5 389.5L235.9 389.5L239.3 388L241.3 384.1L244.5 382.1L248.5 381.5L251.4 379.2L254.2 376.6L257.7 375.1L260.9 373.4L264.7 372.5L269 372.7L272 370.6L274 366.6L277.2 364.8L281 364.2L283.7 361.6L286.4 358.8L289.7 357.3L292.8 355.6L296.2 354.2L300.1 353.8L303.1 351.9L305.1 347.8L307.9 345.5L311.9 345.5L315.3 344.3L318.1 341.9L321.5 340.7L325.1 340L328.5 338.8" stroke-width="10.6"/>
</g>
<g id="ps3" fill="none" stroke-linecap="round" stroke-linejoin="round">
<path d="M-8.4 -131.5L-5.7 -128.8L-2 -128.2L2 -128.2L4.9 -125.8L7 -122.1L9.9 -119.8L13.4 -118.7L16.6 -117.1L20.1 -115.8L23.9 -115.1L27 -113.1L29.9 -110.6L33.9 -110.1L38 -109.8L40.5 -106.7L42.6 -102.9L45.9 -101.1L49.6 -99.9L52.8 -98L56.3 -96.5L59.6 -94.5L61.9 -91.1L65.1 -89L69.1 -88.1L71.6 -85L73.3 -80.6L76.7 -78.7L80.8 -77.8L84.2 -75.9L87.9 -74.4L91.2 -72.3L93.7 -69L97.6 -67.6L101.6 -66.4L103.5 -62.4L106.2 -59.2L110.6 -58.5L114.4 -56.8L117.6 -54.4L120.6 -51.8L122.7 -47.7L125.8 -45.2L129.7 -43.5L131.4 -39.1L134 -35.8L138.8 -35.2L142.3 -32.9L145.4 -30.2L148.2 -27.1L150.6 -23.5L155 -22.2L158.5 -19.8L160.8 -16L164.8 -14.3L168.1 -11.5L170.9 -8.3L174.1 -10.6L177.8 -12.2L181.7 -13.5L184 -17L186.9 -19.7L191.1 -20.5L193.5 -23.8L196 -27.1L199.7 -28.7L203 -30.6L206.7 -32.1L210 -34.1L211.6 -38.6L214.5 -41.2L218.9 -41.6L221.8 -44.1L224.5 -46.9L228.5 -47.8L232.3 -48.9L235.9 -50.3L239.5 -51.6L241.8 -55.1L244.1 -58.5L248.3 -58.8L252.1 -59.8L254.5 -63.1L257.6 -65.1L261.4 -66.1L264.5 -68.1L267.6 -70.1L270.5 -72.5L272.5 -76.4L275.4 -78.9L279.8 -78.7L283.4 -79.8L285.9 -82.7L289.3 -84.2L293.2 -84.7L296.4 -86.3L299.6 -88L302.8 -89.7L305.4 -92.7L308.4 -94.8L312.7 -94.3L316.6 -94.5L319.2 -97.4L322 -99.7L325.6 -100.5L328.8 -102.1M-9.3 -105L-6.2 -103.2L-2.6 -102.5L0.8 -101.1L4.2 -99.8L7.8 -99L10.9 -97.1L13.8 -94.8L17.7 -94.2L21.7 -93.9L24.3 -91L26.4 -87.2L29.8 -85.7L33.8 -85.1L37.1 -83.5L40.5 -81.9L43.9 -80.2L46.5 -77.2L49.2 -74.5L53.1 -73.6L56.2 -71.4L57.9 -67L60.6 -64.2L64.8 -63.7L68.5 -62.3L71.7 -60.2L75.2 -58.4L77.9 -55.6L80.8 -53L85 -52.2L88.2 -50L90.2 -45.9L93.9 -44.3L98.5 -44.1L101.9 -41.9L104.9 -39.3L107.8 -36.4L110 -32.7L113.5 -30.7L117 -28.7L118.8 -24.3L121.8 -21.7L126.6 -21.2L129.7 -18.6L132.4 -15.4L135.3 -12.4L137.8 -9L142 -7.7L145.8 -5.7L147.9 -1.7L152.4 -0.6L156.9 0.5L159.2 4.4L161.8 7.8L164.5 11.1L167.9 13.8L171.1 16.5L174.4 14.4L177.3 11.6L179.6 8.1L183.5 6.8L187.2 5.2L189.3 1.5L193.1 0L197.2 -0.9L200.1 -3.5L203.2 -5.8L205.9 -8.7L208.7 -11.4L213.4 -11.4L217.3 -12.3L219.5 -15.9L222.9 -17.8L226.8 -18.7L229.5 -21.6L232.1 -24.5L234.8 -27.3L237.4 -30.4L241.3 -31.3L245.5 -31.5L248 -34.7L250.4 -37.9L254.3 -38.7L257.7 -40.3L260.3 -43.1L263.5 -45.1L266.7 -47L270 -48.7L274.4 -48.4L278.4 -48.8L280.7 -52.2L283.3 -55L287.2 -55.6L290.4 -57.3L293 -60.2L296.1 -62.2L299.2 -64L302.3 -65.9L306.2 -66.3L309.9 -67L312.2 -70.4L314.4 -74L318 -74.9L321.6 -75.6L324.5 -78L327.5 -79.9M-8.3 -82.4L-5.2 -80.6L-2.2 -78.4L1.5 -77.8L5.4 -77.4L8 -74.5L10.2 -71L13.7 -69.9L17.9 -69.9L21.4 -68.6L24.6 -66.7L28 -65.2L30.8 -62.6L33.4 -59.8L37 -58.6L40.4 -57L42.4 -53L44.8 -49.7L48.9 -49.1L52.9 -48.4L55.9 -46.1L59 -43.9L62.1 -41.6L64.7 -38.7L68.3 -37.1L72.3 -36.1L74.7 -32.9L77.4 -29.9L82 -29.8L86.3 -29L89.1 -26.2L92 -23.6L94.8 -20.6L97.4 -17.5L101.2 -16L104.4 -13.6L106.2 -9.4L109.9 -7.6L114.5 -7L117.1 -3.7L119.5 -0.3L122.4 2.6L125.1 5.7L129.3 7L133 8.9L135.3 12.6L139.7 13.7L144.3 14.7L146.4 18.6L149.1 21.9L152.1 24.9L155.4 27.5L159.6 29L161.9 32.9L164.9 35.9L168.5 38.2L171.4 41.3L174.4 38.7L177.8 36.7L182 35.8L184.7 32.9L187.3 29.8L191.6 29.2L194.6 26.7L196.8 23.1L200.2 21.1L203.4 19L207.2 17.7L211 16.6L213 12.6L215.1 8.9L219.1 8L222.3 5.9L224.7 2.5L228.1 0.9L231.8 -0.4L235.5 -1.7L239.6 -2.2L242.4 -4.7L244.4 -8.7L248.1 -9.9L252.2 -10.3L255 -12.9L257.8 -15.4L261.5 -16.4L264.9 -18L268.2 -19.6L271.6 -21.1L273.8 -24.8L275.8 -28.6L279.6 -29.5L283.5 -30L286.1 -32.7L289 -35L292.8 -35.7L296.3 -37L299.5 -38.6L303 -39.8L305.7 -42.5L308 -45.7L311.8 -46.2L316.2 -45.6L319.3 -47.3L322.1 -49.8L325.6 -50.8L329.1 -51.7M-8.5 -57.2L-6 -54.2L-2.3 -53.7L2 -54.1L5.5 -52.9L8.5 -50.9L11.8 -49.3L14.8 -47.1L17.5 -44.5L21 -43.1L24.5 -41.8L26.8 -38.3L29.1 -35L33 -34.3L37.2 -34.1L40.2 -31.8L43 -29.1L46.1 -26.9L48.8 -24.2L51.9 -22L55.9 -21.2L59 -19.1L61.4 -15.7L65.3 -14.7L70.1 -15L73.3 -12.8L75.9 -9.7L79 -7.3L81.8 -4.5L84.9 -2.2L88.9 -1L91.6 2L93.9 5.6L98.2 6.4L102.1 7.8L104.1 11.8L106.6 15.1L109.6 17.8L112.6 20.5L116.8 21.6L120.3 23.8L122.7 27.3L127.1 28.2L131.5 29.4L133.4 33.5L136.2 36.6L139.6 39L143 41.3L147.3 42.7L149.8 46.2L152.3 49.7L156.8 50.9L159.1 54.8L161.1 58.9L164.8 61.2L168.3 63.6L171.8 66.1L175.2 64.3L178.4 62L180.7 58.4L184.1 56.4L188 55.2L190.1 51.4L193.2 49.1L197.4 48.3L200.6 46.1L203.8 44L206.5 41.2L208.7 37.6L212.8 36.8L217.3 36.7L219.9 33.7L222.9 31.4L227.1 30.9L230.3 28.9L233.2 26.3L236 23.8L238.2 20.2L241.3 18.1L245.8 18.2L248.9 16.1L251.1 12.4L254.5 10.9L258.2 9.8L260.9 7.1L263.8 4.8L266.8 2.5L269.5 -0.1L273.4 -0.6L278 -0L281.1 -2.1L283.5 -5.2L287.1 -6.2L290.8 -7.1L293.6 -9.5L296.5 -11.8L299.6 -13.6L302.4 -16L305.9 -17.1L310.1 -16.8L313.2 -18.7L315.2 -22.6L318.1 -24.8L321.8 -25.5L324.8 -27.5L327.5 -30M-7.7 -34.1L-4.4 -32.6L-1.4 -30.5L1.5 -28.2L5 -27.1L8.4 -25.8L10.8 -22.5L13.4 -19.6L17.4 -19.4L21.5 -19.2L24.3 -16.6L26.8 -13.6L29.9 -11.4L32.7 -9L35.7 -6.8L39.5 -5.8L42.9 -4.2L45.4 -1L48.9 0.5L53.6 0L57.2 1.5L59.6 4.9L62.5 7.3L65.7 9.4L68.8 11.8L72.6 13.1L76.1 14.8L78.4 18.4L81.6 20.5L86.1 20.9L88.9 23.7L90.6 28.1L93.5 30.8L96.7 33.2L100 35.4L104.1 36.5L107.1 39.2L109.7 42.4L114.4 42.9L118 44.7L119.8 49.1L122.9 51.7L126.7 53.5L130.3 55.5L134.5 56.9L137.1 60.2L139.6 63.7L143.9 64.9L146.4 68.5L147.8 73.4L151.4 75.5L155 77.7L158.8 79.8L162.1 82.4L164.7 85.9L168.4 88.2L171.7 91L174.5 88.2L177.6 85.7L181.6 84.7L184.8 82.4L187.2 79L191.4 78.3L195 76.6L197.3 73.1L200.4 70.8L203.5 68.5L207.1 66.9L211.5 66.6L214.1 63.7L215.9 59.5L219.5 58.1L223 56.4L225.2 52.8L228.1 50.3L231.5 48.6L234.9 46.9L239.1 46.6L242.7 45.1L244.6 41.2L247.7 39L251.9 38.7L255 36.7L257.7 33.9L261.3 32.7L264.8 31.4L268.3 30L272.2 29.4L274.9 26.7L276.7 22.4L279.8 20.5L283.7 20L286.6 17.6L289.2 14.8L292.6 13.5L296.1 12.3L299.4 10.7L303 9.9L306 7.8L308.1 4L311.2 2.2L315.5 2.7L319 1.8L321.8 -0.6L325.2 -1.8L328.9 -2.3M-7.9 -8.3L-5.5 -5.2L-2.1 -3.9L2.1 -4.2L5.5 -3L7.9 0.3L10.5 3.1L13.6 5L16.5 7.3L19.6 9.1L23.3 10L26.5 11.9L29.1 14.8L32.7 15.8L37.3 15.4L40.6 17.2L42.8 20.8L45.8 23.1L49.2 24.7L52.4 26.7L56.1 27.9L59.8 29.2L62.3 32.2L65.3 34.7L69.6 35.2L72.8 37.2L74.5 41.7L77 44.9L80.4 46.7L83.6 48.9L87.3 50.4L90.8 52.2L93.2 55.6L96.6 57.6L101.1 58.1L103.6 61.4L105.6 65.4L109.5 66.9L113.4 68.4L117.1 70.1L120.9 71.7L123.3 75.3L126.2 78.2L130.4 79.4L132.6 83.3L134.2 87.7L138.2 89.4L141.9 91.4L145.3 93.8L148.4 96.4L150.4 100.6L154.1 102.7L158 104.6L160.1 108.5L163.9 110.6L167.7 112.7L170.7 115.8L174.2 113.9L177.8 112.1L180.2 108.7L183.3 106.2L187.4 105.3L189.6 101.7L192.3 98.7L196.3 97.6L199.7 95.6L203.1 93.7L206 91.1L207.8 86.9L211.4 85.2L215.9 85.1L218.7 82.4L221.7 80L225.9 79.5L229.5 78L232.7 76L235.8 73.9L238 70.1L240.8 67.5L245.3 67.6L248.6 65.8L250.8 62.3L254.2 60.6L257.9 59.5L260.7 57L263.7 54.6L266.5 52L268.8 48.7L272.5 47.7L277.1 48.2L280.3 46.3L282.8 43.4L286.6 42.5L290.3 41.8L293.3 39.5L296.4 37.6L299.4 35.6L302.1 32.9L305.7 31.9L310.1 32.5L313.3 30.8L315.5 27.2L318.6 25.3L322.1 24.4L325 22.2L327.8 19.7M-8.7 18.9L-5.5 20.7L-2.4 22.4L0.7 24.4L4.2 25.5L7.6 26.8L10.3 29.5L13.5 31.4L17.8 31.2L21.6 32L23.9 35.5L26.4 38.5L30 39.8L33.5 41.1L37 42.7L40.8 43.6L44.1 45.5L46.7 48.5L50.3 49.8L54.4 50.5L56.8 53.9L58.5 58.2L61.8 60.3L65.5 61.7L68.7 63.8L72.3 65.4L75.4 67.7L77.8 71.1L81.6 72.6L85.6 73.7L87.7 77.5L90.1 81L94.4 81.7L98.4 83L102 84.8L105.7 86.7L108.1 90.1L111.2 92.8L115.4 94L117.6 97.7L119.5 101.9L123.7 103.2L127.5 104.9L130.6 107.7L133.6 110.5L135.6 114.6L139 117.1L143.1 118.7L145 122.9L148.4 125.4L153.5 125.8L156.8 128.5L159.8 131.5L162.5 134.9L165.6 137.8L168.9 140.6L171.8 137.9L174.5 134.9L178.3 133.6L181.8 131.8L184 128.1L187.9 127L191.9 125.9L194.5 122.9L197.5 120.4L200.4 117.9L203.6 115.8L208.2 115.8L211.8 114.2L213.7 110.2L216.9 108.2L220.7 107L223.1 103.7L225.6 100.6L228.6 98.4L231.6 96L235.6 95.3L239.7 94.8L242 91.4L244.4 88.2L248.4 87.7L251.9 86.2L254.5 83.3L257.8 81.6L261.2 80.2L264.7 78.8L268.9 78.7L272.4 77.5L274.4 73.6L277 70.7L280.8 70.1L284 68.4L286.5 65.3L289.6 63.4L293 62L296.1 60.3L299.8 59.6L303.3 58.5L305.5 54.9L307.8 51.6L311.6 51.1L315.5 50.8L318.4 48.6L321.5 46.8L325.1 46.3L328.6 45.3M-8.7 44.9L-5.8 47.1L-1.8 47.3L2.1 47.8L4.6 51L6.9 54.4L10.4 55.7L14.3 56.3L17.7 57.7L21.4 58.8L25 60.1L27.8 62.7L30.9 64.8L35 65.3L38.2 67.3L40 71.7L42.7 74.6L46.7 75.4L50.2 77L53.4 79.1L56.8 80.9L59.5 83.9L62.2 86.9L66.2 87.9L69.5 89.9L71.3 94.1L74.6 96.4L79.2 96.5L83 98.1L86.4 100.1L89.8 102.2L92.3 105.5L95.7 107.7L99.8 108.9L102 112.7L104.3 116.3L108.9 117L112.6 118.8L115.3 122L118.2 125L120.3 128.9L123.6 131.5L127.7 132.9L129.8 137L133 139.6L138.1 139.9L141.5 142.4L144.3 145.6L147.2 148.7L150 152L154.5 153.2L157.4 156.4L160.1 159.9L163.8 162.2L166.7 165.4L170.1 163.3L173.9 161.8L176.7 158.9L179.5 156L183.8 155.3L186.4 152.1L188.7 148.6L192.5 147.1L195.9 145.2L199.5 143.6L202.8 141.5L204.5 137L207.3 134.4L211.7 134L214.7 131.4L217.4 128.6L221.5 127.8L225.2 126.6L228.8 125.1L232.4 123.6L234.6 120L237.1 116.9L241.5 116.7L245.1 115.4L247.5 112.1L250.8 110.3L254.6 109.3L257.6 107.1L260.8 105L263.5 102.3L265.5 98.4L268.8 96.5L273.2 96.9L276.5 95.1L279.1 92.2L282.8 91.1L286.6 90.4L289.7 88.5L293 86.8L296 84.8L298.6 81.8L302 80.5L306.5 81.4L310 80.2L312.4 77L315.6 75.3L319.2 74.4L322.2 72.3L325 69.9L328.1 68M-9.4 72L-5.4 72.1L-1.8 73.1L1.6 74.4L5.2 75.4L8.3 77.3L11.1 79.7L14.7 80.8L18.6 81.5L21 84.6L23 88.5L26.5 90L30.6 90.3L33.9 92.1L36.9 94.4L40.1 96.4L42.6 99.4L45.4 102.1L49.2 103.1L52.4 105.2L54.3 109.3L57.5 111.3L62.1 111.2L65.9 112.5L69 114.9L72.3 116.9L75.1 119.7L78 122.3L82.2 123.2L85.2 125.7L87.2 129.7L91.1 131L95.6 131.5L98.4 134.5L100.9 137.8L103.6 140.9L105.9 144.4L109.7 146.1L113.2 148.2L115.2 152.2L119 154L123.8 154.4L126.5 157.6L129.1 160.8L132.2 163.6L135.2 166.4L139.7 167.5L143 170L145.3 173.8L150 174.8L153.4 177.3L155 181.8L158 184.8L161.2 187.6L164.6 190.2L167.8 187.8L170.4 184.6L173.9 182.7L177.6 181.3L179.8 177.5L183.3 175.7L187.5 174.9L190.4 172.3L193.4 169.8L196.2 167.1L199 164.3L203.6 164.2L207.7 163.5L209.9 159.9L213.2 157.8L217.1 157L219.8 154.1L222.4 151.1L225.2 148.4L227.8 145.4L231.6 144.4L235.9 144.2L238.4 141L240.7 137.6L244.6 136.8L248 135.2L250.6 132.3L253.8 130.3L257 128.5L260.4 126.8L264.8 127.1L268.7 126.6L271 123.1L273.7 120.3L277.6 119.8L280.8 118.1L283.3 115.1L286.4 113.2L289.6 111.4L292.8 109.6L296.6 109.1L300.3 108.3L302.5 104.6L304.7 101.2L308.4 100.4L312 99.6L314.8 97.1L317.9 95.3L321.5 94.5L324.9 93.3L328.5 92.6M-8.2 95.5L-4.8 96.9L-0.9 97.4L2 99.7L4.1 103.4L7.3 105.2L11.6 105.1L15.3 106.2L18.1 108.7L21.2 110.8L24.1 113.3L26.6 116.3L30 118L33.6 119.3L36 122.5L38.4 125.8L42.6 126.2L47 126.4L50.1 128.7L53 131.3L56.2 133.4L59.1 136.1L62.6 137.8L66.6 138.7L69.3 141.7L71.9 144.9L76.4 145.2L80.5 146.2L82.8 149.8L85.4 153.1L88.2 156L90.8 159.1L94.7 160.6L98 162.9L100.1 166.8L104 168.2L108.6 168.9L111 172.5L113.4 176L116.7 178.4L120 180.8L124.4 181.9L128 184.1L130.3 187.8L134.8 188.9L138.6 190.8L140.1 195.6L142.9 198.8L146 201.6L149.6 203.9L153.4 206.1L155.8 209.8L159.3 212.3L162.6 215L165.8 212.6L169.6 211.2L172.6 208.8L175.2 205.6L179.4 204.9L182.6 202.7L184.7 199L188 197L191.4 195.1L194.9 193.5L198.9 192.5L201.1 188.9L202.9 184.8L206.8 183.7L210.2 182L212.5 178.5L215.8 176.6L219.5 175.5L223.1 174L227.1 173.3L230.2 171.2L232.1 167.2L235.5 165.5L239.8 165.4L242.7 163.1L245.4 160.3L249.1 159.3L252.6 157.9L255.8 156.1L259.2 154.6L261.5 151.3L263.4 147.3L266.9 146L271 145.8L273.8 143.3L276.5 140.6L280.2 139.8L283.7 138.7L286.9 137L290.3 135.7L293.1 133.3L295.4 130L299 129L303.4 129.8L306.8 128.5L309.4 125.8L312.8 124.6L316.4 123.9L319.4 122L322.4 120.1L325.4 118.3L327.8 115.1M-8.1 120.7L-3.9 120.6L-0.8 122.5L1.9 125.2L4.9 127.2L7.7 129.7L10.5 132.3L13.9 133.7L17.3 135.2L19.6 138.5L22.4 141.2L26.7 141.2L30.8 141.6L33.5 144.3L36.2 147.1L39.4 149L42.4 151.4L45.8 153.1L49.8 153.8L52.9 156.2L55.4 159.2L59.6 159.9L64 160.2L66.5 163.4L68.7 167.1L71.7 169.5L74.5 172.3L77.9 174.4L81.7 175.8L84.2 179.1L86.8 182.1L91.3 182.7L94.7 184.7L96.5 189L99.4 191.8L102.9 193.8L106.5 195.7L110.8 196.7L114 199.3L116.6 202.6L121.1 203.3L124.5 205.7L126 210.4L129.1 213.1L132.6 215.3L136.1 217.6L139.9 219.5L141.9 223.7L144.8 226.7L149.1 228.2L151.1 232.3L154.2 235.2L158.1 237.2L161.5 239.8L164.8 237.7L167.5 234.6L170.6 232.3L174.6 231.1L176.8 227.5L179.8 224.9L184 224.1L187.2 221.9L190.3 219.6L193.1 216.8L195.3 213.2L199.4 212.3L204 212.3L206.6 209.3L209.6 207L213.8 206.4L217.1 204.4L219.8 201.7L222.7 199.1L225 195.6L228.2 193.7L232.7 193.8L235.7 191.5L237.9 187.8L241.4 186.4L245 185.1L247.7 182.3L250.6 179.9L253.6 177.7L256.5 175.2L260.6 175L265.1 175.4L267.9 172.8L270.4 169.8L274.2 169.1L277.7 168L280.5 165.3L283.5 163.2L286.6 161.3L289.5 159.1L293.3 158.5L297.4 158.5L300 155.8L302.1 151.9L305.3 150.3L309 149.5L311.8 147.1L314.6 144.8L317.9 143.5L321.2 141.9L324.6 140.8L328.7 141.3M-8.4 146.7L-5.3 148.7L-1.7 149.8L1.3 151.9L3.7 155.2L7.2 156.6L11.6 156.3L15 157.8L17.3 161.3L20.2 163.8L23.5 165.5L26.7 167.6L30.4 168.8L34.3 169.7L37.1 172.3L40.2 174.7L44.7 174.7L48.6 175.7L50.8 179.5L53.2 182.8L56.6 184.8L59.7 187.1L63.2 188.9L66.9 190.4L69.3 193.8L72.2 196.6L76.6 197.2L79.7 199.7L81.3 204.3L84.4 206.8L88.2 208.4L91.8 210.3L96 211.4L99.2 213.9L101.8 217.1L106.3 218L109.8 220.1L111.4 224.8L114.6 227.3L118.7 228.8L122.1 231.1L125.8 233.2L128.1 237L130.6 240.6L134.9 242L137 246L139 250.2L143.4 251.5L147.4 253.5L151 255.8L154 258.8L157 261.9L160.4 264.6L163.4 261.9L167.1 260.3L170.5 258.2L172.9 254.8L177 253.8L180.7 252.2L183 248.7L186.2 246.4L189.4 244.2L193 242.6L197.4 242.2L200 239.1L201.9 234.9L205.6 233.6L209 231.7L211.2 228L214.2 225.7L217.7 224L221.2 222.4L225.5 222L228.7 220L230.6 215.9L234.1 214.3L238.3 214L241.2 211.4L244.1 208.9L247.9 207.9L251.3 206.5L255 205.4L258.7 204.3L261 200.8L263 196.8L266.7 195.8L270.4 195L273 192L275.9 189.6L279.6 188.7L282.9 187.1L286.3 185.7L289.8 184.6L292.3 181.4L294.7 178L298.6 177.6L302.8 177.9L305.8 175.9L308.8 173.8L312.6 173.3L316.1 172.3L319.3 170.7L322.7 169.5L325.6 167.2L327.8 163.6M-8.7 172L-4.4 171.8L-1.3 173.7L0.9 177.5L3.7 180L7.2 181.4L10.4 183.1L14 184.4L17.8 185.2L21 187.3L23.9 189.8L28 190.2L32.2 190.6L34.6 193.9L36.8 197.6L40.3 199.3L43.8 200.9L47.1 202.9L50.8 204.2L53.9 206.6L56.2 210.1L59.9 211.6L63.8 212.8L65.8 216.8L67.9 220.7L71.7 222.1L75.5 223.6L79.1 225.3L83 226.8L85.7 229.8L88.8 232.4L93.2 233.1L96.2 235.9L98 240.2L101.9 241.8L106.1 243L109.5 245.3L113 247.6L115.2 251.3L117.8 254.8L121.9 256.2L124.2 260L126.1 264.3L130.6 265.3L134.6 267.1L137.8 269.8L140.9 272.7L143.2 276.6L147.4 278.2L151 280.5L153.6 284.2L157.3 286.4L160.4 289.4L164 287.6L166.8 284.8L169.8 282.1L173.9 281.1L176.4 277.8L178.9 274.5L182.9 273.4L186.3 271.5L189.7 269.4L192.6 266.8L194.5 262.6L197.9 260.8L202.5 260.8L205.4 258.1L208.4 255.5L212.6 255.1L216.2 253.6L219.4 251.5L222.5 249.3L224.7 245.5L227.6 243.1L232.1 243.2L235.4 241.3L237.7 237.7L241.1 236.2L244.8 234.9L247.6 232.2L250.5 229.9L253.2 227.1L255.7 223.9L259.6 223.2L264.1 223.7L267.1 221.4L269.7 218.5L273.6 217.8L277.2 216.9L280.1 214.5L283.3 212.6L286.3 210.5L289.1 208L293 207.5L297.3 207.9L300.2 205.6L302.4 202L305.7 200.5L309.2 199.4L312 196.9L314.8 194.5L318 192.7L320.9 190.5L324.3 189.3L328.5 189.9M-9 197.5L-5.7 199L-2.2 200.3L1.5 201.2L4.7 203.1L7.6 205.4L11.5 206L15.7 206.3L18.3 209.3L20.4 213.1L23.9 214.6L27.8 215.4L31.1 217.2L34.6 218.7L38 220.5L40.5 223.7L43.6 226L47.6 226.9L50.3 229.9L51.9 234.4L55.2 236.5L59.4 237.2L62.8 239L66.4 240.8L69.7 242.9L72.3 246.1L75.9 247.9L80.1 248.8L82.4 252.4L84.9 255.8L89.4 256.3L93.5 257.6L96.6 260.1L99.9 262.6L102.2 266.3L105 269.3L109.1 270.7L111.2 274.6L113.4 278.5L118.1 279.2L121.9 281.1L124.6 284.3L127.6 287.2L130 290.9L133.9 292.8L138.1 294.3L140.2 298.4L144.3 300.1L149.1 301L151.5 304.8L154.2 308.2L157.1 311.4L160.4 314.2L163.3 311.4L166.7 309.4L170.3 307.6L172.6 304L176.4 302.5L180.5 301.6L183.1 298.4L186.1 295.9L189.1 293.4L192.5 291.4L197.2 291.4L200.6 289.6L202.5 285.5L205.9 283.7L209.6 282.3L211.9 278.8L214.6 275.8L217.7 273.6L220.8 271.4L225.1 271L228.8 269.8L230.8 265.9L233.7 263.3L237.9 262.9L241 260.8L243.7 258L247.3 256.6L250.8 255.2L254.5 254.1L258.8 254L261.7 251.6L263.6 247.5L266.9 245.8L270.7 245.1L273.5 242.5L276.2 239.7L279.6 238.3L282.9 236.7L286.3 235.3L290.1 234.6L292.8 232L294.8 227.9L298.1 226.3L302.3 226.5L305.5 224.9L308.4 222.6L312 221.7L315.7 221L319 219.8L322.7 219.1L326 217.7L328.2 214.2M-8.7 221.7L-4.8 222.2L-0.9 222.7L1.7 225.7L3.9 229.2L7.5 230.3L11.7 230.6L15.1 232.1L18.5 233.7L21.9 235.3L24.6 238.2L27.4 240.8L31.3 241.8L34.4 243.9L36.2 248.3L39 251L43.2 251.4L46.9 252.7L50 255.1L53.4 257L56.2 259.8L59 262.5L63.1 263.4L66.6 265.3L68.6 269.2L72.2 271L77.1 270.9L80.6 272.8L83.5 275.6L86.6 278.2L89 281.7L92.3 284L96.2 285.5L98.2 289.6L100.9 292.7L105.7 293.2L109.1 295.5L111.4 299.1L114.3 302.1L116.9 305.5L120.7 307.3L124.9 308.8L127.2 312.6L131.1 314.4L136.1 314.9L138.7 318.4L141.3 321.9L144.1 325.1L147.3 328L151.4 329.7L154 333.3L157.1 336.3L160.4 339L164 337.2L167.1 334.8L169.9 331.9L174.1 331L177 328.3L179.3 324.6L182.9 323L186.4 321.2L189.9 319.4L193.3 317.4L195 313.1L197.7 310L202.1 309.7L205.2 307.4L207.8 304.3L211.8 303.4L215.7 302.3L219.2 300.7L222.7 299.2L225.1 295.7L227.5 292.5L231.8 292.3L235.6 291.2L238 287.9L241.2 285.9L245 285L248.1 282.8L251.1 280.6L253.9 277.9L256 274L259.2 272.1L263.6 272.4L267 270.8L269.5 267.7L273.1 266.5L276.9 265.9L280 263.9L283.2 262.1L286.3 260.1L288.9 257.2L292.4 256L296.9 256.8L300.4 255.6L302.8 252.4L305.9 250.6L309.6 249.8L312.5 247.7L315.3 245.2L318.4 243.3L321.1 240.6L324 238.4L328.1 238.7M-8.6 246.4L-4.4 246.2L-1 247.6L2.2 249.4L5.6 251L8.5 253.5L11.3 256L15 257.1L18.3 258.9L20.3 262.8L23 265.8L27.2 266L31.1 266.8L34 269.4L37 271.8L40 274.1L42.7 277L46.3 278.6L50.2 279.6L52.7 282.8L55.5 285.6L60.2 285.6L64.5 286.2L67.3 289.1L70.2 291.7L73.2 294.4L75.9 297.4L79.7 298.9L83.2 300.9L85.2 304.9L88.7 306.9L93.3 307.4L96 310.6L98.2 314.4L101.1 317.3L103.9 320.3L107.8 321.9L111.8 323.5L114.1 327.2L118.1 328.8L123 329.3L125.4 333L127.8 336.6L131.2 339.1L134.4 341.7L138.8 343L141.7 346.2L144 350.1L148.5 351.4L151 354.9L153.3 358.8L156.9 361.3L160.4 363.8L163.3 361L166.5 358.7L170.3 357.2L172.6 353.6L175.8 351.4L180.1 350.7L183.1 348L186 345.4L188.9 342.7L191.8 340L196.3 339.8L200.5 339.1L202.7 335.5L206 333.4L210 332.5L212.7 329.6L215.3 326.5L218.1 323.9L220.8 321L224.8 320.1L229 319.6L231.3 316.2L233.7 312.9L237.7 312.2L241 310.4L243.6 307.4L246.9 305.5L250.1 303.7L253.7 302.3L258.2 302.6L261.8 301.5L263.9 297.8L266.9 295.5L270.9 295L273.9 292.9L276.5 290L279.8 288.2L283 286.4L286.3 284.8L290.2 284.5L293.5 282.9L295.4 278.7L298.1 276L302 275.7L305.4 274.3L308.1 271.7L311.5 270.3L315.1 269.5L318.5 268.2L322.3 267.9L326 267.4L328.6 264.5M-7.9 269.7L-4.9 271.9L-1.3 272.9L2.1 274.6L4.3 278.1L7.1 280.8L11.3 280.9L15.2 281.5L18 284.2L20.7 287L23.8 289.2L26.5 291.9L29.8 293.8L33.7 294.7L36.7 297.1L39.2 300.3L43.3 300.9L48 300.6L51.1 303L53.7 306.2L56.9 308.4L59.8 310.9L63.2 313L67.2 314.1L70 316.9L72.4 320.3L76.7 321.1L80.6 322.4L82.6 326.5L84.9 330.1L88.1 332.6L91.1 335.2L95.1 336.6L98.7 338.5L101.1 342.1L105.2 343.4L109.7 344.3L111.8 348.2L114.4 351.6L118.1 353.6L121.6 355.8L125.9 357.1L129 359.9L131.2 363.8L135.6 365.2L138.6 368.2L139.8 373.3L143.1 375.9L146.8 378.2L150.6 380.3L154 382.8L156.9 386.1L160.4 388.6L163.9 386.7L167.2 384.5L169.9 381.4L174 380.4L177.4 378.5L179.6 374.7L182.9 372.6L186.4 370.8L190 369.2L193.9 368L196 364.1L198 360.1L202 359.2L205.3 357.2L207.6 353.6L211.2 352L215 350.9L218.6 349.4L222.6 348.6L225.3 345.8L227.4 341.9L231.3 341L235.4 340.6L238.1 337.6L241.1 335.4L245 334.5L248.4 332.8L251.7 331.1L254.8 329.1L256.8 325L259.3 321.8L263.4 321.6L267 320.5L269.5 317.3L272.7 315.5L276.6 314.9L279.8 313.2L283.1 311.6L286.4 309.9L288.8 306.6L291.7 304.4L296.1 304.9L300.1 304.7L302.8 302.1L305.9 300.1L309.7 299.6L312.9 298L315.9 295.9L319 294.1L321.6 291.3L324.1 288.3L327.8 287.7M-8.8 296.3L-4.5 296L-0.7 296.7L1.9 299.7L4.4 302.7L7.5 304.8L10.4 307.2L13.5 309.2L17.3 310.2L20.5 312.1L23.1 315.1L26.8 316.2L31.5 315.8L34.8 317.6L37.1 321.1L40.2 323.4L43.6 325.2L46.8 327.4L50.7 328.5L54.2 330.1L56.7 333.4L60.1 335.4L64.5 335.8L67.3 338.7L69 343.2L71.9 345.8L75.2 348L78.5 350.2L82.5 351.5L85.5 354.1L88.1 357.4L92.5 358.2L96.3 359.8L98.1 364.1L101.1 366.9L105.2 368.3L108.9 370.2L113 371.5L116 374.3L118.4 378.1L122.6 379.4L125.7 382.2L127 387.3L130.4 389.7L134.3 391.6L137.7 394L141.3 396.3L143.3 400.6L146.7 403L150.9 404.8L153.3 408.5L156.9 410.9L160.4 413.4L163.5 410.9L166.5 408.3L170.4 406.9L172.9 403.6L175.6 400.7L179.8 399.9L183.1 397.7L186.1 395.2L189 392.4L191.3 388.8L195.3 387.9L200 387.9L202.6 384.9L205.7 382.5L209.9 382L213.1 379.9L215.9 377.1L218.7 374.5L221.1 371L224.6 369.4L229 369.4L231.9 366.7L234.1 363.1L237.7 361.8L241.2 360.3L243.8 357.3L246.8 355L249.8 352.7L252.9 350.5L257.2 350.6L261.5 350.6L264 347.5L266.8 344.8L270.7 344.3L274.1 342.8L276.8 340.1L279.9 338.2L283 336.2L286.2 334.3L290.2 334.1L294 333.5L296.3 329.9L298.6 326.5L302.1 325.5L305.6 324.3L308.2 321.5L311.3 319.6L314.7 318.3L317.9 316.7L321.7 316.2L325.8 316.5L328.8 314.5M-8.7 320.9L-5.7 323L-2.5 324.9L1.1 325.9L4.4 327.6L7 330.5L10.6 331.7L15.1 331.4L18.4 333L20.6 336.7L23.5 339.2L27.2 340.4L30.6 342.1L34.2 343.4L38.1 344.5L40.9 347.2L43.8 349.8L48 350.3L51.6 351.9L53.3 356.3L55.7 359.7L59.3 361.3L62.6 363.4L66.1 365.2L69.7 366.9L72.3 370.2L75.3 372.7L79.7 373.3L82.6 376.1L84.4 380.4L88.1 382.1L92.4 383.1L96 384.9L100 386.5L102.8 389.4L105.4 392.8L109.7 393.9L112.6 396.9L114.1 401.7L117.8 403.6L121.9 405.1L125 407.8L128.3 410.4L130.4 414.5L133.4 417.4L137.7 418.8L139.8 422.9L142.7 426L147.8 426.5L151.3 429.1L154.4 432L157.2 435.3L160.4 438.2L163.7 436L167.2 434L169.7 430.8L173.5 429.4L177.5 428.1L179.8 424.6L182.9 422.2L186.2 420.1L189.8 418.4L194.2 418L197 415.2L198.7 410.8L202.3 409.2L205.8 407.6L208 403.8L211 401.4L214.5 399.8L218 398.1L222.2 397.6L225.5 395.6L227.4 391.5L230.7 389.7L235 389.5L238 387L240.8 384.5L244.6 383.5L248.2 382.1L251.8 380.9L255.5 379.8L257.7 376.3L259.7 372.3L263.5 371.3L267.3 370.5L269.8 367.5L272.7 365.1L276.4 364.2L279.7 362.6L283.1 361.1L286.6 359.8L289 356.6L291.4 353.3L295.3 353L299.6 353.3L302.6 351.2L305.6 349.1L309.4 348.5L312.9 347.6L316.1 345.9L319.4 344.6L322.2 342.2L324.5 338.6L327.7 337.1" stroke-width="10.6"/>
</g>
<g id="ps4" fill="none" stroke-linecap="round" stroke-linejoin="round">
<path d="M-8.6 -96.2L-5.6 -94.4L-2.4 -92.8L0.6 -91L4.1 -90.1L7.6 -89.2L10.3 -86.7L13.4 -84.9L17.6 -85.2L21.5 -85.1L24.1 -82.2L26.5 -79.1L29.9 -77.7L33.4 -76.5L36.7 -75L40.4 -74.2L43.8 -72.8L46.4 -69.9L49.7 -68.2L53.8 -68L56.7 -65.7L58.5 -61.3L61.3 -58.7L64.8 -57.4L68.1 -55.6L71.6 -54.2L75.1 -52.7L77.7 -49.7L80.8 -47.5L85.1 -47.2L88.1 -44.9L90 -40.8L93.4 -39L97.6 -38.4L101.2 -36.9L105 -35.5L108.2 -33.3L110.5 -29.8L114.1 -28.2L117.8 -26.7L119.5 -22.2L122 -19L126.3 -18.1L129.7 -16.2L133 -13.9L135.9 -11.2L138 -7.3L141.7 -5.5L145.6 -4L147.5 0.1L151.1 2.1L155.7 2.8L158.8 5.4L161.8 8.2L164.8 11L167.8 8.5L171.4 6.9L174.3 4.1L177 1.3L181.4 0.8L184.5 -1.4L187.1 -4.5L190.3 -6.6L193.4 -9L197.3 -9.9L201.7 -10.2L204 -13.5L206.3 -17.1L210.2 -18.1L213.3 -20.3L215.4 -23.9L218.5 -26.2L221.6 -28.2L225.1 -29.8L229.4 -30L232.5 -32L234.4 -36L237.8 -37.6L241.9 -38L244.8 -40.5L247.6 -42.9L251.3 -43.9L254.8 -45.3L258.5 -46.1L262.5 -46.5L265.1 -49.4L267 -53.4L270.4 -54.7L274.3 -55.3L277 -58L279.7 -60.6L283.1 -61.8L286.5 -63.2L289.8 -64.6L293.4 -65.4L296.2 -67.8L298.3 -71.7L301.5 -73.3L305.7 -72.9L309 -74.1L311.9 -76.4L315.3 -77.4L319 -77.8L322.4 -79L325.8 -79.9L329.2 -81M-8.6 -70.9L-5.8 -68.5L-2.1 -68L2.1 -68.4L5.1 -66.4L7.4 -62.8L10.4 -60.9L14.2 -60.4L17.7 -59.3L21.2 -58.2L24.9 -57.5L28 -55.4L30.8 -52.9L34.6 -52.2L38.4 -51.4L40.6 -47.8L42.7 -43.9L46.2 -42.6L49.9 -41.6L53.1 -39.7L56.6 -38.3L59.8 -36.2L62.3 -33.1L65.8 -31.5L69.8 -30.9L72.3 -27.7L74.5 -24.1L78.6 -23.3L82.8 -22.9L86.3 -21.2L89.9 -19.7L92.9 -17.2L95.5 -14L99.3 -12.8L102.9 -11L104.6 -6.6L107.7 -4.1L112.1 -3.6L115.4 -1.5L118.4 1.2L121.2 4.1L123.4 7.9L127.1 9.6L130.9 11.2L133 15.2L136.5 17.2L141.5 17.3L144.8 19.6L147.9 22.4L150.7 25.4L153.5 28.5L157.4 30.2L160.4 33.1L163.5 35.8L167 34L169.8 31.2L173.3 29.4L177.2 28.1L179.3 24.2L182.4 21.9L186.3 20.7L189.6 18.6L193.1 16.9L195.6 13.7L197.4 9.5L201.4 8.5L205.4 7.7L208 4.6L211.3 2.7L215.5 2.2L219 0.7L222.5 -0.9L225.5 -3.2L227.6 -7L231 -8.7L235.5 -8.6L238.4 -10.9L240.9 -14L244.6 -15.1L248.1 -16.5L251 -19L254 -21.2L256.5 -24.3L258.9 -27.6L262.8 -28.2L267.1 -28L269.9 -30.4L272.7 -33L276.6 -33.6L280.2 -34.6L283.2 -36.7L286.4 -38.4L289.4 -40.5L292.1 -43.1L296 -43.4L300.4 -42.7L303.4 -44.7L305.8 -47.9L309.2 -49.2L312.7 -50.2L315.5 -52.6L318.4 -54.9L321.4 -56.7L324.2 -59.2L327.4 -60.7M-9.3 -43.9L-5.7 -43.4L-1.9 -43.2L1.5 -42.1L5 -41.2L8.5 -40.2L11.4 -37.9L14.5 -36L18.4 -35.7L21.7 -34.3L23.8 -30.4L26.3 -27.4L30.1 -26.8L33.9 -26L37 -24.1L40.2 -22.4L43.3 -20.3L45.8 -17.3L49.1 -15.6L52.9 -14.9L55.6 -12L57.8 -8.3L61.6 -7.5L66.1 -7.7L69.5 -6L72.8 -4.2L76 -2.2L78.6 0.8L82 2.6L86 3.4L88.5 6.7L90.8 10.2L95 10.7L99.1 11.6L101.7 14.7L104.5 17.5L107.1 20.6L109.6 23.8L113.6 25L116.8 27.2L118.9 31L123.1 32.1L127.7 32.4L130.5 35.4L133.4 38.3L136.3 41L139.3 43.7L143.7 44.6L146.9 47L149.2 50.8L153.4 52L156.5 54.6L159.1 58L162.3 60.6L165.2 58L168.7 56.3L171.7 53.8L174.1 50.5L178.2 49.6L181.8 48.1L184.4 45.1L187.5 42.8L190.3 40.1L193.8 38.5L198.6 38.8L201.7 36.8L203.9 33.1L207.6 31.9L211.2 30.5L213.5 27.2L216.2 24.4L219.1 21.9L222.1 19.6L226.2 19.2L230 18.3L232.1 14.5L234.8 11.8L238.8 11.3L241.9 9.3L244.5 6.5L247.9 4.9L251.2 3.4L254.7 2.2L259.1 2.5L262.6 1.3L264.7 -2.5L267.5 -4.8L271.4 -5.2L274.5 -7.1L277.1 -10L280.2 -11.7L283.5 -13.2L286.7 -14.8L290.4 -15.4L293.9 -16.5L296 -20.3L298.3 -23.5L302.1 -24L305.7 -24.6L308.5 -26.9L311.6 -28.7L315.3 -29.2L318.7 -30.2L322.2 -31L325.9 -31.2L329 -33M-7.8 -22L-4.9 -19.8L-1.5 -18.8L2.3 -18.4L5.1 -16.1L7.2 -12.4L10.4 -10.8L14.5 -10.9L18 -10L20.9 -7.8L24 -5.9L26.9 -3.7L29.5 -0.8L32.8 0.7L36.5 1.5L39 4.5L41.3 7.8L45.3 8.3L49.7 8L52.9 9.7L55.9 11.9L59.2 13.7L62 16.3L65.1 18.3L69.1 18.9L72.2 21.1L74.4 24.7L78.2 25.7L82.6 25.8L85.5 28.4L87.9 31.7L90.7 34.4L93.2 37.5L96.5 39.6L100.4 40.7L102.9 43.9L105.5 46.9L110.2 47L114 48.4L116.2 52L119.1 54.6L122.2 57L125.6 59.1L130.1 59.7L133 62.4L135.6 65.7L140.2 66.3L143.5 68.4L145.2 72.9L148 75.9L151.1 78.5L154.6 80.6L158.1 82.8L161.2 85.4L164.7 83.6L167.6 81L170.9 78.9L175 78L177.5 74.7L180.2 71.8L183.8 70.3L187.2 68.4L191 67.2L194.1 64.9L195.7 60.3L198.7 57.9L202.8 57.3L205.5 54.4L208.2 51.6L212.1 50.7L215.8 49.5L219.5 48.2L223.1 46.9L225.3 43.4L227.9 40.4L232.2 40.3L235.9 39.2L238.4 36.1L241.7 34.5L245.5 33.7L248.7 31.7L251.9 29.9L254.7 27.5L256.7 23.4L259.6 21.1L263.9 21.3L267.2 19.8L269.7 16.7L273.1 15.4L276.9 14.8L280.1 13L283.3 11.4L286.5 9.7L289 6.6L292.1 4.8L296.5 5.5L300.4 5.3L303 2.7L306 0.7L309.7 0.1L312.9 -1.3L315.8 -3.6L318.9 -5.4L321.6 -7.8L324.2 -10.7L327.8 -11.4M-8.9 5.4L-5.1 5.7L-1 5.2L2.2 6.7L4.9 9.1L8 11L10.8 13.3L13.5 15.9L16.9 17.1L20.3 18.2L22.8 21.1L25.4 24L29.4 24.2L33.6 23.9L36.7 25.8L39.4 28.4L42.6 30.2L45.6 32.4L48.7 34.3L52.6 34.9L56 36.4L58.4 39.6L61.9 41.1L66.4 40.7L69.6 42.7L71.8 46.3L74.6 49L77.4 51.5L80.3 54L84.1 55.2L87.3 57.2L89.5 60.7L93.1 62.2L97.6 62.4L100.2 65.4L102.4 69L105.7 71.1L108.9 73.1L112.7 74.5L116.9 75.3L119.6 78.4L122.6 80.9L127.2 81.3L130 84.1L131.7 88.6L134.8 91L138.1 93.3L141.6 95.2L145.4 96.9L147.5 100.8L150.6 103.3L154.5 104.9L157.3 107.9L160.6 110.2L163.6 107.6L167.1 105.8L170.4 103.6L172.6 100L176.4 98.6L180.2 97.4L183.1 94.6L186.2 92.3L188.7 89.1L191.8 86.7L196.6 87.1L200.2 85.7L202.6 82.3L206.4 81.1L210.2 80.2L212.9 77.3L215.7 74.7L218.4 71.8L221.1 68.9L225.2 68.5L229.2 67.8L231.4 64.2L234.1 61.4L238 60.7L241.1 58.5L243.7 55.6L246.9 53.7L249.9 51.5L253.4 50.2L257.9 50.8L261.6 49.8L263.9 46.3L267 44.3L270.9 44L274 42L276.7 39.4L280 37.7L283.1 35.9L286.4 34.3L290.4 34.3L293.9 33.1L295.9 29.2L298.5 26.2L302.2 25.6L305.5 24.3L308.2 21.7L311.4 20L314.8 19L318.1 17.7L321.9 17.3L325.8 17.5L328.7 15.3M-8.1 29L-5.3 31.4L-2.2 33.3L1.3 34.1L4.4 36L6.8 39.2L10.1 40.6L14.5 40L18.1 40.9L20.6 43.9L23.5 46.3L26.8 47.8L29.9 49.8L33.4 51L37.3 51.5L40.3 53.6L43.1 56.3L47.2 56.6L51.5 56.7L54 59.7L56.3 63.3L59.4 65.4L62.4 67.6L65.7 69.6L69.4 70.6L72.4 73.1L74.8 76.4L78.7 77.3L82.7 78.2L84.9 81.9L87.2 85.4L90.8 86.9L94.3 88.7L98.2 89.8L102.2 90.9L104.8 94L108.1 96.2L112.6 96.6L115.2 99.7L117 104L120.6 105.9L124.2 107.6L127.7 109.6L131.3 111.5L133.4 115.4L136.3 118.3L140.5 119.5L142.5 123.5L144.8 127.2L149.3 128.1L153 130L156.4 132.3L159.5 135.1L163 133.1L166 130.5L169 128L173.3 127.3L176.2 124.5L178.7 121.4L182.3 119.6L185.6 117.7L189.7 116.8L193.4 115.3L195.1 110.9L197.8 108L201.9 107.1L204.5 104.1L207 100.9L210.6 99.5L214.1 97.9L218 96.9L221.9 96L224.2 92.5L226.7 89.2L230.9 89L234.6 87.9L237.2 84.9L240.7 83.4L244.5 82.5L247.9 81L251.6 79.8L254.6 77.6L256.4 73.3L259.3 70.9L263.5 70.8L266.6 68.9L269.2 65.8L272.6 64.5L276.3 63.5L279.5 61.8L282.9 60.5L286 58.5L288.3 55L291.5 53.2L295.9 53.9L299.6 53.3L302.4 50.7L305.7 49.4L309.5 49L312.8 47.6L315.9 45.9L319.1 44.3L321.7 41.3L324.3 38.4L328.1 38.3M-9.1 56.8L-5.1 56.6L-1.2 56.6L1.4 59.3L3.8 62.5L7 64.1L10.3 65.5L13.5 67.1L17.2 67.7L20.8 68.5L23.6 70.9L26.7 72.7L31 72.5L34.8 73.2L37 76.6L39.4 79.9L42.8 81.4L46.1 83.1L49.3 84.9L52.9 85.9L55.9 88.2L58.3 91.5L61.9 92.7L65.9 93.4L68.1 97L70.1 100.8L73.6 102.2L77.4 103.4L80.9 104.9L84.8 105.9L87.9 108.2L90.5 111.1L94.6 111.9L98.4 113.3L100.2 117.4L103 120.3L107.1 121.1L110.6 122.9L114.1 124.8L117.2 127.2L119.1 131.2L122.4 133.4L126.2 134.9L128 139.2L130.6 142.4L135.1 143L138.7 144.8L142.2 147L145.2 149.6L147.7 153L151.6 154.7L154.8 157.1L157.9 159.9L160.9 157.4L164.3 155.4L167.9 153.7L170.1 150.1L173.4 148L177.4 147L180.4 144.6L183.6 142.4L186.1 139.1L188.4 135.6L192.7 135.3L196.9 134.6L199.4 131.4L202.8 129.8L207 129.4L210.2 127.3L213.2 125L216.1 122.5L218.4 119L222 117.7L226.4 117.8L229.1 115L231.5 111.7L235.2 110.6L238.6 109.1L241.2 106.2L244.1 103.8L246.9 101.2L249.7 98.7L253.9 98.7L258.2 98.8L260.8 96.1L263.6 93.5L267.5 93L271 91.9L273.8 89.4L276.9 87.6L280 85.7L283 83.6L286.9 83.4L291 83.5L293.7 80.8L295.9 77.2L299.2 75.9L302.7 74.9L305.5 72.4L308.3 70.1L311.6 68.6L314.6 66.8L318 65.7L322.2 66.3L325.6 65.4L328 62.1M-9 82L-5.7 83.3L-2.2 84.4L1.5 84.9L4.7 86.5L7.6 88.8L11.4 89.3L15.6 89.1L18.4 91.6L20.5 95.4L23.7 97.2L27.4 98L30.7 99.6L34.2 100.9L37.6 102.3L40.3 105.2L43.1 107.8L47 108.4L50.2 110.3L52 114.6L54.7 117.4L58.7 118L62.4 119.3L65.9 120.8L69.5 122.2L72.3 124.9L75.3 127.3L79.5 127.8L82.8 129.9L84.7 133.9L88.1 135.7L92.6 136.1L96 138L99.3 140.1L102.2 142.7L104.4 146.5L107.8 148.4L111.5 150.1L113.2 154.5L116.1 157.2L120.8 157.6L124.2 159.7L127.3 162.3L130.3 165L132.7 168.5L136.8 169.8L140.7 171.4L142.8 175.3L146.8 176.9L150.6 178.6L153.4 181.7L156.3 184.7L159.7 182.5L162.8 180.1L165.5 177.2L169.7 176.3L173 174.2L175.5 171L178.8 168.9L182 166.6L186.1 165.7L190.4 165.3L192.7 161.8L195.1 158.3L199.1 157.4L202 154.9L204.3 151.3L207.4 149.1L210.7 147.1L214.3 145.7L218.6 145.4L221.3 142.6L223.4 138.7L227.2 137.7L231.1 137L233.8 134.1L237 132.1L240.8 131.2L244.3 129.8L248.2 129.3L251.9 128.2L254 124.4L256.4 121.1L260.4 120.6L263.8 119.3L266.3 116.1L269.4 114.2L273 113.1L276.3 111.5L279.8 110.3L283.2 108.9L285.4 105.3L287.9 102.2L292 102.2L295.9 102L298.8 99.7L302 98L305.8 97.7L309.3 96.7L312.7 95.5L316.2 94.6L319 92.1L321.3 88.6L324.7 87.5L328.8 88.1M-8.4 106.4L-4.4 106.2L-1 107.3L1.2 110.9L3.9 113.5L7.7 113.9L11.4 114.5L14.6 116.1L18 117.3L21.2 119L23.8 121.9L26.8 123.9L30.6 124.5L33.4 127L35.3 131.2L38.3 133.3L42.4 133.5L45.9 134.7L49.1 136.6L52.5 138.1L55.3 140.7L58.2 143.2L62.2 143.8L65.6 145.3L67.8 149L70.9 151.1L75.5 150.9L79.2 152.2L82.2 154.6L85.3 156.9L87.7 160.2L90.5 162.9L94.4 164L97.1 166.9L99 171L103 172L107.2 172.7L110 175.6L112.8 178.4L115.5 181.4L118.3 184.3L122.5 185.2L126 187.1L128.3 190.7L132.6 191.6L137.2 192.3L139.6 195.7L142.3 198.9L145 202L148.1 204.6L151.6 206.7L154.6 209.5L157.8 207.2L161.1 205.1L164.9 203.7L167.4 200.4L170.2 197.7L174.2 196.6L177.4 194.5L180.8 192.7L183.5 189.8L185.3 185.4L188.9 184L193.2 183.6L195.8 180.6L198.9 178.3L203.1 177.9L206.7 176.4L210 174.7L213.2 172.6L215.3 168.9L218.5 166.8L223 167L226.2 165.2L228.6 161.9L232.1 160.5L235.7 159.4L238.5 156.8L241.5 154.5L244.1 151.7L246.4 148.2L250.1 147.2L254.5 147.6L257.5 145.5L260.1 142.6L263.8 141.8L267.5 141L270.5 138.9L273.6 137.1L276.7 135.1L279.5 132.6L283.2 131.9L287.6 132.7L290.8 131.2L293.2 127.8L296.3 126.1L299.9 125.4L302.8 123.2L305.6 120.7L308.6 118.9L311.5 116.6L314.5 114.7L318.6 115L322.4 115L325 112.2L327.5 109.2M-7.7 130.6L-4.4 131.9L-1.1 133.4L2.2 134.8L5 137.2L7.9 139.6L11.5 140.5L14.8 142L16.9 145.8L19.4 148.8L23.4 149.1L27.4 149.5L30.4 151.6L33.5 153.5L36.6 155.5L39.3 158.3L42.7 159.9L46.7 160.4L49.5 163L51.9 166.2L56 166.7L60.6 166.5L63.7 168.6L66.6 171.1L69.6 173.5L72.2 176.5L75.5 178.5L79.3 179.6L81.7 183L84.2 186.3L88.5 186.7L92.4 188L94.7 191.5L97.4 194.4L100.2 197.2L103.2 199.8L107.5 200.5L110.8 202.7L113.3 206L117.8 206.6L122.1 207.4L124.4 211.1L127.1 214.2L130.1 216.9L133.4 219.3L137.7 220.3L140.3 223.6L142.8 227L146.7 228.7L149.7 231.6L152.8 234.3L156 232.1L159.1 229.8L161.6 226.6L165.4 225.3L169.1 223.9L171.7 220.8L174.7 218.5L177.6 215.9L181 214.1L185.8 214.4L189.1 212.6L191.2 208.9L194.8 207.5L198.5 206.2L200.9 202.9L203.5 200L206.5 197.7L209.4 195.3L213.5 194.8L217.3 193.9L219.4 190.2L222 187.3L226 186.7L229.2 184.8L231.7 181.9L235.1 180.3L238.5 178.9L242 177.7L246.3 177.9L249.8 176.7L251.9 172.9L254.7 170.5L258.7 170.1L261.8 168.3L264.3 165.4L267.5 163.7L270.8 162.3L274 160.6L277.7 160L281.1 158.7L283.2 154.9L285.6 151.7L289.3 151.3L293 150.6L295.8 148.2L298.9 146.5L302.5 146L306 145L309.4 144.1L313.2 143.8L316.1 141.8L318.3 138.3L321.4 136.7L325.5 137.2L328.9 136.4M-8.1 156.9L-4.5 157.6L-1.8 160.2L0.4 163.8L3.7 165.1L7.9 164.7L11.3 165.9L14 168.5L17 170.6L20 172.7L22.7 175.2L26.2 176.4L30 177.1L32.7 179.8L35.4 182.4L39.6 182.4L44 182.2L46.9 184.5L49.6 187.3L52.7 189.3L55.5 191.8L58.7 193.8L62.6 194.7L65.4 197.2L67.7 200.7L71.6 201.5L75.7 202.1L78.1 205.5L80.3 209L83.3 211.4L86.2 214L89.8 215.5L93.8 216.4L96.4 219.5L99.5 221.8L104.3 221.8L107.6 223.9L109.6 227.9L112.7 230.2L116.1 232.3L119.6 234.2L123.7 235.3L126.2 238.6L128.8 241.8L133.1 242.7L135.7 246L137.3 250.5L140.8 252.5L144.4 254.6L147.9 256.6L151.2 259.1L154.4 256.9L157.6 254.5L161.5 253.4L164.4 250.6L167 247.5L170.7 246.2L174.1 244.3L177.8 242.9L181 240.7L182.6 236.1L185.5 233.5L189.7 233L192.4 230.1L195.1 227.2L199 226.3L202.7 225.1L206.3 223.7L209.9 222.3L212.1 218.8L214.8 215.8L219.1 215.8L222.8 214.7L225.3 211.6L228.7 210L232.5 209.2L235.7 207.2L238.8 205.3L241.6 202.7L243.6 198.7L246.7 196.6L251 196.7L254.2 195.1L256.7 192L260.2 190.7L264 190L267.1 188.2L270.3 186.5L273.4 184.6L275.9 181.6L279.2 180.1L283.7 181L287.4 180.4L290 177.5L293.1 175.8L296.8 175.3L300 173.6L302.8 171.3L305.9 169.5L308.6 166.9L311.3 164.3L315.1 164.1L319.2 164.6L322.1 162.4L324.5 159.2L327.8 158M-7.5 181L-4.7 183.5L-2 186.3L1 188.2L4 190.4L7 192.4L10.7 193.1L14.1 194.5L16.7 197.4L20.1 198.9L24.6 198.2L28.4 198.9L30.9 202L33.8 204.5L37.1 206.2L40.1 208.4L43.7 209.7L47.5 210.6L50.1 213.5L52.9 216.3L57.1 216.6L60.8 217.9L62.7 221.9L65.2 225.3L68.4 227.3L71.5 229.5L75.2 230.8L79 232.1L81.5 235.3L84.9 237.3L89.5 237.4L92.4 240L94.4 244L97.9 245.9L101.7 247.4L105.4 249L109.4 250.2L111.9 253.5L114.6 256.6L118.9 257.5L121.5 260.8L123 265.5L126.5 267.5L130.2 269.4L133.8 271.3L137.4 273.4L139.8 277L143.3 279.1L146.9 281.2L150.1 283.9L153.3 281.6L156.7 279.6L159.1 276.2L162.6 274.3L166.5 273.2L169.3 270.3L172.4 267.9L175 264.8L178.1 262.3L182.9 262.6L186.6 261.3L189 257.9L192.7 256.6L196.7 255.7L199.3 252.7L202.1 250L204.9 247.3L207.7 244.5L211.9 244.1L215.8 243.3L217.9 239.5L220.7 236.8L224.6 236L227.6 233.7L230.2 230.8L233.5 228.9L236.6 226.7L240.2 225.6L244.8 226.2L248.2 224.7L250.4 221.1L253.8 219.5L257.7 219.1L260.7 216.8L263.4 214.3L266.8 212.8L269.9 210.9L273.4 209.7L277.5 209.7L280.5 207.7L282.5 203.5L285.4 201.2L289.2 200.8L292.3 198.9L295 196.3L298.4 195L301.9 193.9L305.2 192.7L309.1 192.7L312.8 192.2L315.3 189.1L317.9 186L321.6 185.8L325.5 185.8L328.5 183.9M-9 209.3L-5.4 210L-2.1 211.5L0.5 214.2L4 215.3L8.4 214.6L11.9 215.7L14.3 219L17.1 221.4L20.6 222.7L23.9 224.3L27.4 225.6L31.2 226.3L34.2 228.6L36.8 231.4L40.8 232L44.7 232.8L46.8 236.5L48.9 240.3L52.2 242.1L55.5 243.9L58.9 245.6L62.6 246.7L65.6 249.2L68.2 252.2L72.3 252.9L76.1 254L78.2 258L80.9 260.9L84.9 261.7L88.7 263.1L92.5 264.5L96.1 266.1L98.4 269.6L101.6 271.9L105.8 272.9L107.8 276.8L109.8 280.9L113.8 282.2L117.4 283.9L120.8 286.1L124 288.5L126.1 292.4L129.4 294.7L133.6 295.9L135.7 299.9L139.1 302.2L143.4 303.3L146.6 305.9L149.6 308.7L152.8 306.5L155.8 304L159.7 302.8L162.9 300.7L165.3 297.4L168.8 295.6L172.2 293.8L175.9 292.6L179.8 291.6L181.9 287.7L184 284L187.9 283L191 280.9L193.2 277.2L196.5 275.4L200.1 274.1L203.6 272.6L207.6 272L210.4 269.4L212.4 265.5L216.1 264.3L220.3 264.1L223.1 261.6L226 259.2L229.8 258.5L233.3 257.2L236.7 255.8L240.2 254.4L242.4 251L244.5 247.2L248.2 246.3L252 245.8L254.6 242.9L257.4 240.4L261.1 239.6L264.4 238.3L267.6 236.6L270.9 235.2L273.6 232.5L275.9 229.2L279.6 228.6L284 229.3L287.2 227.9L290 225.4L293.5 224.6L297.1 224L300.2 222.3L303.4 220.7L306.4 218.9L308.8 215.8L311.6 213.5L315.6 213.8L319.4 213.8L322.1 211.2L324.8 208.6L328.2 207.7M-7.7 231.4L-4.5 233.1L-2.3 236.7L0.7 238.8L4.3 239.5L7.8 240.7L11.3 241.8L15 242.5L18.1 244.5L20.8 247.1L24.6 247.8L28.5 248.4L30.8 251.8L32.8 255.8L36.1 257.5L39.7 258.6L43 260.4L46.5 261.8L49.7 263.7L52.2 266.9L55.6 268.6L59.7 269.1L62.2 272.1L64.3 275.9L68.1 277L72.4 277.5L75.9 279.1L79.6 280.5L82.7 282.8L85.1 286.1L88.9 287.4L92.6 289L94.3 293.3L97.1 296.2L101.4 296.8L104.9 298.8L107.9 301.3L110.8 304.1L112.9 307.9L116.4 309.9L120.4 311.3L122.4 315.3L125.6 317.7L130.6 317.8L134.1 319.9L137.2 322.5L140 325.6L142.8 328.6L146.3 330.7L149.4 333.5L152.6 331.2L156.1 329.5L158.6 326.4L161.6 323.9L165.6 322.9L168.7 320.5L171.7 318.2L174.3 315.2L176.5 311.5L180.6 310.7L184.9 310.5L187.5 307.5L190.7 305.4L195 305.1L198.2 303.2L201.2 300.8L204.1 298.4L206.4 295L209.8 293.3L214.2 293.5L217.2 291.3L219.4 287.6L222.9 286.3L226.4 285L229 282.1L231.9 279.6L234.7 277.2L237.4 274.5L241.4 274L245.8 274.5L248.7 272.1L251.2 269.1L254.9 268.4L258.6 267.6L261.4 265.2L264.4 263.1L267.6 261.5L270.6 259.4L274.3 258.7L278.5 259.1L281.4 257L283.5 253.2L286.5 251.3L290.2 250.6L293 248.4L295.7 245.8L298.9 244.2L302 242.6L305.2 241.2L309.2 241.4L312.9 241.1L315.4 238.1L317.9 235.1L321.5 234.6L325.2 234.4L328.3 232.6M-8.3 257.5L-4.8 258.5L-1.2 259.2L2 261L4.8 263.4L8.5 264.2L12.3 264.7L14.8 267.8L16.8 271.7L20.1 273.2L24 273.7L27.3 275.4L30.5 277.1L33.8 278.9L36.4 281.8L39.3 284.2L43.2 284.8L46.3 286.9L48.3 290.9L51.5 292.7L56 292.6L59.7 293.8L63.1 295.6L66.5 297.3L69.2 300.2L72.2 302.5L76.3 303.3L79.2 305.9L81.1 309.9L85 311.2L89.3 311.7L92.2 314.3L95 317.1L97.7 320.1L100 323.7L103.8 325.1L107.3 327L109.3 331L113 332.6L117.9 332.7L121 335.3L123.8 338.1L126.8 340.9L129.6 343.9L133.9 344.9L137.3 347.2L139.5 350.9L143.4 352.7L146.5 355.3L149.4 358.3L152.6 356.1L155.4 353.3L159.1 351.9L162.7 350.2L165.1 346.9L168.3 344.8L171.5 342.7L175.3 341.4L179.7 341.3L182.4 338.4L184.4 334.4L188.1 333.2L191.5 331.4L193.6 327.7L196.5 325.2L199.8 323.4L203.1 321.6L207.2 321.1L210.5 319.4L212.4 315.3L215.5 313.2L219.7 313L222.7 310.8L225.5 308.1L229.1 307.1L232.7 305.9L236.3 304.8L240.3 304.3L243 301.8L244.9 297.7L248.2 296.1L252.2 295.7L254.9 293.2L257.5 290.4L261 289.2L264.4 287.9L267.6 286.3L271.1 285.2L273.9 282.9L276 279L279.1 277.2L283.3 277.7L286.8 276.6L289.5 274.2L293 273.1L296.7 272.7L300 271.5L303.4 270.3L306.7 269.2L309.2 266.2L311.7 263.2L315.4 262.9L319.4 263.3L322.4 261.5L325.1 258.8L328.4 257.7M-7.7 281L-4 281.6L-1.5 284.7L0.7 288.2L4.3 289.2L8.3 289.3L11.6 290.9L14.6 292.9L17.8 294.6L20.5 297.3L23.2 299.9L26.9 300.8L30.3 302.4L32.4 306.2L35.3 308.6L39.7 308.3L43.7 308.9L46.7 311L50 312.8L53.1 315L55.8 317.7L59.6 318.8L63.3 320L65.6 323.5L68.5 326L73.1 326L76.7 327.4L79.2 330.7L82 333.4L84.5 336.6L87.3 339.4L91.3 340.5L94.3 343L96.5 346.7L100.7 347.5L105.1 348.1L107.7 351.3L110.4 354.2L113.5 356.8L116.6 359.2L121 360L124.4 362.2L126.7 365.8L131.1 366.7L135.1 368.2L136.8 372.6L139.5 375.8L142.6 378.4L146 380.7L149.4 383.1L152.6 380.9L156.2 379.3L159 376.5L161.7 373.6L165.6 372.5L168.9 370.5L172.2 368.5L175 365.8L176.8 361.5L180 359.5L184.5 359.3L187.2 356.7L190 354L194.2 353.5L197.9 352.3L201.1 350.3L204.4 348.4L206.7 345L209.5 342.4L213.9 342.6L217.5 341.3L219.8 337.9L223.1 336.2L226.8 335.2L229.7 332.8L232.5 330.3L235.3 327.8L237.5 324.3L240.8 322.7L245.3 323.2L248.6 321.6L251 318.4L254.5 317.2L258.3 316.6L261.3 314.6L264.3 312.6L267.5 310.9L270.3 308.4L273.7 307.2L278.1 307.9L281.7 307.2L284 303.8L286.9 301.6L290.5 300.9L293.6 299.1L296.2 296.5L299.2 294.6L302.2 292.5L305.1 290.4L308.8 290.1L312.9 290.5L315.7 288.4L318 284.9L321.3 283.6L325 283.4L328.1 281.8M-7.4 305.3L-4.3 307L-1.4 309.2L1.7 311L4.5 313.5L7.3 316.1L10.8 317.1L14.2 318.5L16.5 322L19.2 324.5L23.5 324.2L27.6 324.4L30.5 326.7L33.5 329L36.7 330.8L39.6 333.3L43 334.7L47 335.3L49.9 337.8L52.4 340.9L56.6 341.2L60.9 341.5L63.5 344.5L66 347.7L68.9 350.2L71.5 353.2L74.9 355L78.7 356.2L81.1 359.5L83.9 362.3L88.5 362.5L92.1 364.1L94.1 368L97.1 370.6L100.4 372.8L103.8 374.7L108.2 375.3L111.4 377.7L113.9 381L118.5 381.5L122.1 383.4L123.7 387.9L126.5 390.9L129.8 393.3L133.2 395.5L137.1 397L139.5 400.6L142.6 403.3L146.3 405.2L149.4 407.9L152.6 405.8L155.3 402.8L158.8 401L162.5 399.7L165.1 396.6L168.1 394.1L171.1 391.6L174.4 389.8L179.2 390L182.7 388.4L184.7 384.6L188.2 383L192 381.9L194.4 378.6L197 375.6L200 373.4L203 371L207 370.4L210.9 369.5L212.9 365.7L215.5 362.7L219.4 362.1L222.7 360.3L225.2 357.3L228.6 355.7L232 354.3L235.6 353.2L239.9 353.3L243.3 351.9L245.3 348.1L248.2 345.8L252.2 345.5L255.3 343.6L257.9 340.6L261.1 339L264.5 337.7L267.7 336L271.4 335.4L274.6 333.8L276.6 329.8L279.1 326.8L283 326.6L286.6 325.8L289.3 323.3L292.5 321.7L296.2 321.2L299.6 320.1L303.1 319.3L306.7 318.8L309.5 316.5L311.8 313L315.1 311.8L319.2 312.4L322.5 311.3L325.3 308.9L328.5 307.6" stroke-width="10.6"/>
</g>
<filter id="nz0" x="0" y="0" width="318.4" height="320.3" filterUnits="userSpaceOnUse" color-interpolation-filters="sRGB"><feGaussianBlur in="SourceGraphic" stdDeviation="3.0" result="b"/><feTurbulence type="fractalNoise" baseFrequency="0.2" numOctaves="2" seed="7" result="t"/><feColorMatrix in="t" type="matrix" values="1 0 0 0 0 0 1 0 0 0 0 0 1 0 0 0 0 0 0 1" result="n"/><feComposite in="b" in2="n" operator="arithmetic" k1="0" k2="1" k3="1.0" k4="-0.5" result="m"/><feComponentTransfer in="m"><feFuncR type="linear" slope="1.5" intercept="-0.25"/><feFuncG type="linear" slope="1.5" intercept="-0.25"/><feFuncB type="linear" slope="1.5" intercept="-0.25"/><feFuncA type="linear" slope="0" intercept="1"/></feComponentTransfer></filter>
<filter id="nz1" x="0" y="0" width="318.4" height="320.3" filterUnits="userSpaceOnUse" color-interpolation-filters="sRGB"><feGaussianBlur in="SourceGraphic" stdDeviation="3.0" result="b"/><feTurbulence type="fractalNoise" baseFrequency="0.2" numOctaves="2" seed="20" result="t"/><feColorMatrix in="t" type="matrix" values="1 0 0 0 0 0 1 0 0 0 0 0 1 0 0 0 0 0 0 1" result="n"/><feComposite in="b" in2="n" operator="arithmetic" k1="0" k2="1" k3="1.0" k4="-0.5" result="m"/><feComponentTransfer in="m"><feFuncR type="linear" slope="1.5" intercept="-0.25"/><feFuncG type="linear" slope="1.5" intercept="-0.25"/><feFuncB type="linear" slope="1.5" intercept="-0.25"/><feFuncA type="linear" slope="0" intercept="1"/></feComponentTransfer></filter>
<filter id="nz2" x="0" y="0" width="318.4" height="320.3" filterUnits="userSpaceOnUse" color-interpolation-filters="sRGB"><feGaussianBlur in="SourceGraphic" stdDeviation="3.0" result="b"/><feTurbulence type="fractalNoise" baseFrequency="0.2" numOctaves="2" seed="33" result="t"/><feColorMatrix in="t" type="matrix" values="1 0 0 0 0 0 1 0 0 0 0 0 1 0 0 0 0 0 0 1" result="n"/><feComposite in="b" in2="n" operator="arithmetic" k1="0" k2="1" k3="1.0" k4="-0.5" result="m"/><feComponentTransfer in="m"><feFuncR type="linear" slope="1.5" intercept="-0.25"/><feFuncG type="linear" slope="1.5" intercept="-0.25"/><feFuncB type="linear" slope="1.5" intercept="-0.25"/><feFuncA type="linear" slope="0" intercept="1"/></feComponentTransfer></filter>
<filter id="nz3" x="0" y="0" width="318.4" height="320.3" filterUnits="userSpaceOnUse" color-interpolation-filters="sRGB"><feGaussianBlur in="SourceGraphic" stdDeviation="3.0" result="b"/><feTurbulence type="fractalNoise" baseFrequency="0.2" numOctaves="2" seed="46" result="t"/><feColorMatrix in="t" type="matrix" values="1 0 0 0 0 0 1 0 0 0 0 0 1 0 0 0 0 0 0 1" result="n"/><feComposite in="b" in2="n" operator="arithmetic" k1="0" k2="1" k3="1.0" k4="-0.5" result="m"/><feComponentTransfer in="m"><feFuncR type="linear" slope="1.5" intercept="-0.25"/><feFuncG type="linear" slope="1.5" intercept="-0.25"/><feFuncB type="linear" slope="1.5" intercept="-0.25"/><feFuncA type="linear" slope="0" intercept="1"/></feComponentTransfer></filter>
<filter id="nz4" x="0" y="0" width="318.4" height="320.3" filterUnits="userSpaceOnUse" color-interpolation-filters="sRGB"><feGaussianBlur in="SourceGraphic" stdDeviation="3.0" result="b"/><feTurbulence type="fractalNoise" baseFrequency="0.2" numOctaves="2" seed="59" result="t"/><feColorMatrix in="t" type="matrix" values="1 0 0 0 0 0 1 0 0 0 0 0 1 0 0 0 0 0 0 1" result="n"/><feComposite in="b" in2="n" operator="arithmetic" k1="0" k2="1" k3="1.0" k4="-0.5" result="m"/><feComponentTransfer in="m"><feFuncR type="linear" slope="1.5" intercept="-0.25"/><feFuncG type="linear" slope="1.5" intercept="-0.25"/><feFuncB type="linear" slope="1.5" intercept="-0.25"/><feFuncA type="linear" slope="0" intercept="1"/></feComponentTransfer></filter>
</defs>
<g transform="translate(15.6 12)" clip-path="url(#pc)">
<g filter="url(#nz0)">
<rect x="-5" y="-5" width="328.4" height="330.3" fill="#fff"/>
<use href="#ps0" x="0" y="-1.9" stroke="#00ffff" style="mix-blend-mode:multiply"/>
<use href="#ps0" x="-1.33" y="1.42" stroke="#ff00ff" style="mix-blend-mode:multiply"/>
<use href="#ps0" x="1.8" y="0.1" stroke="#ffff00" style="mix-blend-mode:multiply"/>
</g></g>
<g transform="translate(359.6 12)" clip-path="url(#pc)">
<g filter="url(#nz1)">
<rect x="-5" y="-5" width="328.4" height="330.3" fill="#fff"/>
<use href="#ps1" x="0" y="-1.9" stroke="#00ffff" style="mix-blend-mode:multiply"/>
<use href="#ps1" x="-1.33" y="1.42" stroke="#ff00ff" style="mix-blend-mode:multiply"/>
<use href="#ps1" x="1.8" y="0.1" stroke="#ffff00" style="mix-blend-mode:multiply"/>
</g></g>
<g transform="translate(703.6 12)" clip-path="url(#pc)">
<g filter="url(#nz2)">
<rect x="-5" y="-5" width="328.4" height="330.3" fill="#fff"/>
<use href="#ps2" x="0" y="-1.9" stroke="#00ffff" style="mix-blend-mode:multiply"/>
<use href="#ps2" x="-1.33" y="1.42" stroke="#ff00ff" style="mix-blend-mode:multiply"/>
<use href="#ps2" x="1.8" y="0.1" stroke="#ffff00" style="mix-blend-mode:multiply"/>
</g></g>
<g transform="translate(1048.6 12)" clip-path="url(#pc)">
<g filter="url(#nz3)">
<rect x="-5" y="-5" width="328.4" height="330.3" fill="#fff"/>
<use href="#ps3" x="0" y="-1.9" stroke="#00ffff" style="mix-blend-mode:multiply"/>
<use href="#ps3" x="-1.33" y="1.42" stroke="#ff00ff" style="mix-blend-mode:multiply"/>
<use href="#ps3" x="1.8" y="0.1" stroke="#ffff00" style="mix-blend-mode:multiply"/>
</g></g>
<g transform="translate(1393.4 12)" clip-path="url(#pc)">
<g filter="url(#nz4)">
<rect x="-5" y="-5" width="328.4" height="330.3" fill="#fff"/>
<use href="#ps4" x="0" y="-1.9" stroke="#00ffff" style="mix-blend-mode:multiply"/>
<use href="#ps4" x="-1.33" y="1.42" stroke="#ff00ff" style="mix-blend-mode:multiply"/>
<use href="#ps4" x="1.8" y="0.1" stroke="#ffff00" style="mix-blend-mode:multiply"/>
</g></g>
<g font-family='"Liberation Sans", Arial, Helvetica, sans-serif' font-size="44.8" fill="#1c1c1c" text-anchor="middle">
<rect x="259" y="257.7" width="75" height="74.6" fill="#f8f8f8" fill-opacity="0.95"/>
<text x="297.6" y="307.5">1</text>
<rect x="603" y="257.7" width="75" height="74.6" fill="#f8f8f8" fill-opacity="0.95"/>
<text x="641.6" y="307.5">2</text>
<rect x="947" y="257.7" width="75" height="74.6" fill="#f8f8f8" fill-opacity="0.95"/>
<text x="985.6" y="307.5">3</text>
<rect x="1292" y="257.7" width="75" height="74.6" fill="#f8f8f8" fill-opacity="0.95"/>
<text x="1330.6" y="307.5">4</text>
<rect x="1636.8" y="257.7" width="75" height="74.6" fill="#f8f8f8" fill-opacity="0.95"/>
<text x="1675.4" y="307.5">5</text>
</g>
<path d="M2.3 0.3H1725M2.3 345.25H1725M347.0 0V346M691.8 0V346M1036.0 0V346M1380.6 0V346M1724.6 0V346" stroke="#1a1a1a" stroke-width="1.5" fill="none"/>
<path d="M2.9 0V346" stroke="#4a4a4a" stroke-width="1.3" fill="none"/>
<g id="chart" font-family='"Liberation Sans", Arial, Helvetica, sans-serif' fill="#000" stroke="#000" stroke-width="0">
<path d="M538.15 370.5V1041.4M867.65 370.5V1041.4M1197.15 370.5V1041.4M1526.65 370.5V1041.4M178 888.97H1712.6M178 736.55H1712.6M178 584.12H1712.6M178 431.7H1712.6" stroke="#cbcbcb" stroke-width="1" fill="none"/>
<path d="M208.65 522.12 L218.53 546.67 L228.42 574.32 L238.31 630.61 L248.19 583.91 L258.07 642.27 L267.96 671.73 L277.85 678.1 L287.73 653.4 L297.62 675.09 L307.5 711.27 L317.38 727.56 L327.27 705.79 L337.15 717.21 L347.04 740.69 L356.93 729.35 L366.81 720.19 L376.69 730.97 L386.58 707.39 L396.47 675.61 L406.35 703.93 L416.24 684.02 L426.12 742.27 L436 753.48 L445.89 711.88 L455.77 755.94 L465.66 744.52 L475.54 755.99 L485.43 749.57 L495.32 716.05 L505.2 802.95 L515.09 780 L524.97 744.87 L534.86 741.39 L544.74 725.37 L554.62 755.3 L564.51 751.13 L574.39 765.15 L584.28 749.57 L594.16 753.91 L604.05 757.39 L613.93 753.81 L623.82 779.13 L633.71 793.57 L643.59 838.03 L653.48 762.76 L663.36 800.52 L673.25 805.69 L683.13 788.7 L693.01 764.35 L702.9 745.13 L712.78 771.3 L722.67 780.57 L732.55 742.16 L742.44 753.91 L752.32 762.61 L762.21 783.51 L772.09 774.78 L781.98 768.77 L791.87 794.09 L801.75 733.91 L811.63 720.25 L821.52 738.26 L831.4 746.96 L841.29 754.23 L851.17 743.89 L861.06 761.44 L870.94 733.37 L880.83 753.04 L890.71 760.23 L900.6 736.5 L910.49 775.52 L920.37 760.16 L930.25 792.62 L940.14 759.13 L950.02 740.74 L959.91 766.09 L969.79 775.65 L979.68 776.33 L989.56 735.05 L999.45 787.83 L1009.33 803.4 L1019.22 752.9 L1029.11 766.43 L1038.99 765.74 L1048.88 758.26 L1058.76 744.26 L1068.64 755.39 L1078.53 749.57 L1088.41 726.09 L1098.3 724.35 L1108.18 783.13 L1118.07 789.77 L1127.95 731.34 L1137.84 753.42 L1147.72 741.28 L1157.61 744 L1167.5 765.37 L1177.38 749.4 L1187.27 783.17 L1197.15 760.36 L1207.04 804.11 L1216.92 747.83 L1226.81 739.98 L1236.69 782.35 L1246.58 725.08 L1256.46 752.17 L1266.35 770.64 L1276.23 715.74 L1286.12 747.83 L1296 758.55 L1305.88 732.95 L1315.77 808.56 L1325.65 784.35 L1335.54 764.73 L1345.42 771.3 L1355.31 784.92 L1365.2 783.13 L1375.08 736.09 L1384.97 778.03 L1394.85 759.11 L1404.74 761.74 L1414.62 774.39 L1424.51 771.83 L1434.39 709.63 L1444.28 753.04 L1454.16 766.09 L1464.05 770.77 L1473.93 741.9 L1483.82 773.04 L1493.7 787.93 L1503.59 758.35 L1513.47 767.74 L1523.36 712.81 L1533.24 743.48 L1543.12 748.98 L1553.01 733.04 L1562.89 729.33 L1572.78 744.87 L1582.66 754.23 L1592.55 688.39 L1602.44 795.39 L1612.32 736.52 L1622.21 698.39 L1632.09 728.7 L1641.98 740.29 L1651.86 733.27 L1661.75 739.55 L1671.63 790.35 L1681.52 741.79" fill="none" stroke="#000" stroke-width="5.3" stroke-linejoin="miter" stroke-miterlimit="3.1"/>
<rect x="197.95" y="511.3" width="21.4" height="21.4" fill="#ff0000"/>
<rect x="385.77" y="664.9" width="21.4" height="21.4" fill="#ff0000"/>
<rect x="583.46" y="743.2" width="21.4" height="21.4" fill="#ff0000"/>
<rect x="781.16" y="783.4" width="21.4" height="21.4" fill="#ff0000"/>
<rect x="1670.82" y="731.1" width="21.4" height="21.4" fill="#ff0000"/>
<text transform="translate(208.65 495.3) scale(1 1.055)" font-size="36.2" text-anchor="middle" stroke-width="0.3" font-weight="bold">1</text>
<text transform="translate(396.47 645.9) scale(1 1.055)" font-size="36.2" text-anchor="middle" stroke-width="0.3" font-weight="bold">2</text>
<text transform="translate(594.16 727) scale(1 1.055)" font-size="36.2" text-anchor="middle" stroke-width="0.3" font-weight="bold">3</text>
<text transform="translate(791.87 854.9) scale(1 1.055)" font-size="36.2" text-anchor="middle" stroke-width="0.3" font-weight="bold">4</text>
<text transform="translate(1681.52 717.4) scale(1 1.055)" font-size="36.2" text-anchor="middle" stroke-width="0.3" font-weight="bold">5</text>
<path d="M208.65 1041.4v-15M208.65 370.5v15M274.55 1041.4v-9M274.55 370.5v9M340.45 1041.4v-9M340.45 370.5v9M406.35 1041.4v-9M406.35 370.5v9M472.25 1041.4v-9M472.25 370.5v9M538.15 1041.4v-15M538.15 370.5v15M604.05 1041.4v-9M604.05 370.5v9M669.95 1041.4v-9M669.95 370.5v9M735.85 1041.4v-9M735.85 370.5v9M801.75 1041.4v-9M801.75 370.5v9M867.65 1041.4v-15M867.65 370.5v15M933.55 1041.4v-9M933.55 370.5v9M999.45 1041.4v-9M999.45 370.5v9M1065.35 1041.4v-9M1065.35 370.5v9M1131.25 1041.4v-9M1131.25 370.5v9M1197.15 1041.4v-15M1197.15 370.5v15M1263.05 1041.4v-9M1263.05 370.5v9M1328.95 1041.4v-9M1328.95 370.5v9M1394.85 1041.4v-9M1394.85 370.5v9M1460.75 1041.4v-9M1460.75 370.5v9M1526.65 1041.4v-15M1526.65 370.5v15M1592.55 1041.4v-9M1592.55 370.5v9M1658.45 1041.4v-9M1658.45 370.5v9M178 1010.92h9M1712.6 1010.92h-9M178 980.43h9M1712.6 980.43h-9M178 949.95h9M1712.6 949.95h-9M178 919.46h9M1712.6 919.46h-9M178 888.97h15M1712.6 888.97h-15M178 858.49h9M1712.6 858.49h-9M178 828h9M1712.6 828h-9M178 797.52h9M1712.6 797.52h-9M178 767.03h9M1712.6 767.03h-9M178 736.55h15M1712.6 736.55h-15M178 706.06h9M1712.6 706.06h-9M178 675.58h9M1712.6 675.58h-9M178 645.09h9M1712.6 645.09h-9M178 614.61h9M1712.6 614.61h-9M178 584.12h15M1712.6 584.12h-15M178 553.64h9M1712.6 553.64h-9M178 523.15h9M1712.6 523.15h-9M178 492.67h9M1712.6 492.67h-9M178 462.18h9M1712.6 462.18h-9M178 431.7h15M1712.6 431.7h-15M178 401.21h9M1712.6 401.21h-9" stroke="#3c3c3c" stroke-width="1.15" fill="none"/>
<rect x="178" y="370.5" width="1534.6" height="670.9" fill="none" stroke="#3c3c3c" stroke-width="1.15"/>
<text transform="translate(208.65 1081.1) scale(1 1.065)" font-size="39" text-anchor="middle" stroke-width="0.7">0</text>
<text transform="translate(538.15 1081.1) scale(1 1.065)" font-size="39" text-anchor="middle" stroke-width="0.7">500</text>
<text transform="translate(867.65 1081.1) scale(1 1.065)" font-size="39" text-anchor="middle" stroke-width="0.7">1000</text>
<text transform="translate(1197.15 1081.1) scale(1 1.065)" font-size="39" text-anchor="middle" stroke-width="0.7">1500</text>
<text transform="translate(1526.65 1081.1) scale(1 1.065)" font-size="39" text-anchor="middle" stroke-width="0.7">2000</text>
<text transform="translate(168.6 1052.5) scale(1 1.065)" font-size="39" text-anchor="end" stroke-width="0.7">0.970</text>
<text transform="translate(168.6 900.07) scale(1 1.065)" font-size="39" text-anchor="end" stroke-width="0.7">0.975</text>
<text transform="translate(168.6 747.65) scale(1 1.065)" font-size="39" text-anchor="end" stroke-width="0.7">0.980</text>
<text transform="translate(168.6 595.22) scale(1 1.065)" font-size="39" text-anchor="end" stroke-width="0.7">0.985</text>
<text transform="translate(168.6 442.8) scale(1 1.065)" font-size="39" text-anchor="end" stroke-width="0.7">0.990</text>
<text transform="translate(944.6 1150.4) scale(1 1.01)" font-size="45.8" text-anchor="middle" stroke-width="0.7">Time t [ns]</text>
<text transform="translate(35.3 709.9) rotate(-90) scale(1 1.01)" font-size="45.05" stroke-width="0.7" text-anchor="middle">normalized resistance R/R<tspan font-size="28" dy="8.5">1</tspan></text>
</g>
</svg>
</body>
</html>
